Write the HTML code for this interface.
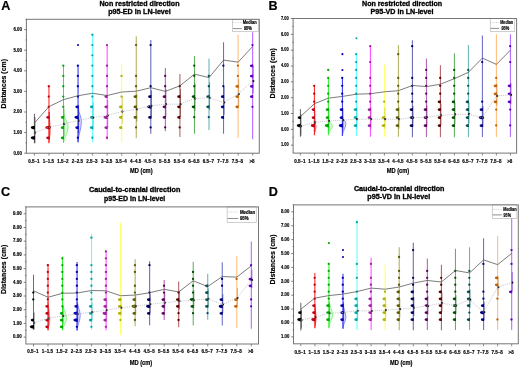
<!DOCTYPE html>
<html><head><meta charset="utf-8"><title>Distances by MD</title>
<style>html,body{margin:0;padding:0;background:#fff;overflow:hidden;}svg{display:block;filter:blur(0.45px);}</style></head>
<body><svg width="520" height="368" viewBox="0 0 520 368" font-family="'Liberation Sans', Arial, sans-serif" fill="#000">
<style>text{stroke:#000;stroke-width:0.18px;} .tt{stroke-width:0.34px;}</style>
<rect width="520" height="368" fill="#fff"/>
<text x="1.2" y="10.4" font-size="12.6" font-weight="bold">A</text>
<text x="99.5" y="6" class="tt" font-size="7.4" font-weight="bold" textLength="80" lengthAdjust="spacingAndGlyphs">Non restricted direction</text>
<text x="108.2" y="14.2" class="tt" font-size="7.4" font-weight="bold" textLength="62.6" lengthAdjust="spacingAndGlyphs">p95-ED in LN-level</text>
<line x1="34.4" y1="113.65" x2="34.4" y2="143.31" stroke="#6B6B6B" stroke-width="1.05"/>
<line x1="35" y1="117.15" x2="35" y2="143.31" stroke="#000000" stroke-width="0.9" opacity="0.55"/>
<path d="M34.9,125.7 A4.1,1.75 0 0 0 34.9,129.2 Z" fill="#000000"/>
<path d="M34.9,136 A4.1,1.75 0 0 0 34.9,139.5 Z" fill="#000000"/>
<circle cx="35.1" cy="132.6" r="1.1" fill="#181818"/>
<path d="M48.95,112 C49.25,119.42 50.45,124.05 50.45,130.54 C50.45,134.87 49.25,137.96 48.95,142.9 Z" fill="#FF2626" fill-opacity="0.18" stroke="#FF2626" stroke-width="0.6" stroke-opacity="0.85"/>
<line x1="48.95" y1="86.25" x2="48.95" y2="143.31" stroke="#FF2626" stroke-width="1.05"/>
<line x1="49.55" y1="112" x2="49.55" y2="139.81" stroke="#C00010" stroke-width="0.9" opacity="0.55"/>
<circle cx="48.75" cy="86.25" r="1.15" fill="#C00010"/>
<circle cx="48.75" cy="96.55" r="1.15" fill="#C00010"/>
<circle cx="48.75" cy="106.85" r="1.15" fill="#C00010"/>
<path d="M49.45,115.65 A3.2,1.5 0 0 0 49.45,118.65 Z" fill="#C00010"/>
<path d="M49.45,125.7 A4.1,1.75 0 0 0 49.45,129.2 Z" fill="#C00010"/>
<path d="M49.45,136.25 A3.2,1.5 0 0 0 49.45,139.25 Z" fill="#C00010"/>
<circle cx="49.65" cy="127.45" r="1.1" fill="#181818"/>
<path d="M63.5,112.82 C64.44,118.59 68.2,122.2 68.2,127.24 C68.2,132.72 64.44,136.64 63.5,142.9 Z" fill="#2EF12E" fill-opacity="0.18" stroke="#2EF12E" stroke-width="0.6" stroke-opacity="0.85"/>
<line x1="63.5" y1="65.65" x2="63.5" y2="142.49" stroke="#2EF12E" stroke-width="1.05"/>
<line x1="64.1" y1="108.5" x2="64.1" y2="136.31" stroke="#00A800" stroke-width="0.9" opacity="0.55"/>
<circle cx="63.3" cy="65.65" r="1.15" fill="#00A800"/>
<circle cx="63.3" cy="75.95" r="1.15" fill="#00A800"/>
<circle cx="63.3" cy="86.25" r="1.15" fill="#00A800"/>
<circle cx="63.3" cy="96.55" r="1.15" fill="#00A800"/>
<circle cx="63.3" cy="106.85" r="1.15" fill="#00A800"/>
<path d="M64,115.65 A3.2,1.5 0 0 0 64,118.65 Z" fill="#00A800"/>
<path d="M64,125.95 A3.2,1.5 0 0 0 64,128.95 Z" fill="#00A800"/>
<path d="M64,136.25 A3.2,1.5 0 0 0 64,139.25 Z" fill="#00A800"/>
<circle cx="64.2" cy="123.95" r="1.1" fill="#181818"/>
<path d="M78.05,107.67 C78.73,113.19 81.45,116.65 81.45,121.48 C81.45,128.54 78.73,133.59 78.05,141.66 Z" fill="#3333FF" fill-opacity="0.18" stroke="#3333FF" stroke-width="0.6" stroke-opacity="0.85"/>
<line x1="78.05" y1="65.65" x2="78.05" y2="142.49" stroke="#3333FF" stroke-width="1.05"/>
<line x1="78.65" y1="105.2" x2="78.65" y2="133.01" stroke="#0000B0" stroke-width="0.9" opacity="0.55"/>
<circle cx="77.85" cy="65.65" r="1.15" fill="#0000B0"/>
<circle cx="77.85" cy="75.95" r="1.15" fill="#0000B0"/>
<circle cx="77.85" cy="86.25" r="1.15" fill="#0000B0"/>
<circle cx="77.85" cy="96.55" r="1.15" fill="#0000B0"/>
<path d="M78.55,105.35 A3.2,1.5 0 0 0 78.55,108.35 Z" fill="#0000B0"/>
<path d="M78.55,115.4 A4.1,1.75 0 0 0 78.55,118.9 Z" fill="#0000B0"/>
<path d="M78.55,125.95 A3.2,1.5 0 0 0 78.55,128.95 Z" fill="#0000B0"/>
<circle cx="77.85" cy="137.75" r="1.15" fill="#0000B0"/>
<circle cx="78.05" cy="45.05" r="1.05" fill="#0000B0"/>
<circle cx="78.75" cy="120.65" r="1.1" fill="#181818"/>
<line x1="92.6" y1="34.75" x2="92.6" y2="142.28" stroke="#61FFFF" stroke-width="1.05"/>
<line x1="93.2" y1="102.11" x2="93.2" y2="129.92" stroke="#00A8A8" stroke-width="0.9" opacity="0.55"/>
<circle cx="92.4" cy="34.75" r="1.15" fill="#00A8A8"/>
<circle cx="92.4" cy="45.05" r="1.15" fill="#00A8A8"/>
<circle cx="92.4" cy="55.35" r="1.15" fill="#00A8A8"/>
<circle cx="92.4" cy="65.65" r="1.15" fill="#00A8A8"/>
<circle cx="92.4" cy="75.95" r="1.15" fill="#00A8A8"/>
<circle cx="92.4" cy="86.25" r="1.15" fill="#00A8A8"/>
<circle cx="92.4" cy="96.55" r="1.15" fill="#00A8A8"/>
<path d="M93.1,105.35 A3.2,1.5 0 0 0 93.1,108.35 Z" fill="#00A8A8"/>
<path d="M93.1,115.65 A3.2,1.5 0 0 0 93.1,118.65 Z" fill="#00A8A8"/>
<path d="M93.1,125.95 A3.2,1.5 0 0 0 93.1,128.95 Z" fill="#00A8A8"/>
<circle cx="92.4" cy="137.75" r="1.15" fill="#00A8A8"/>
<circle cx="93.3" cy="117.56" r="1.1" fill="#181818"/>
<line x1="107.15" y1="45.05" x2="107.15" y2="139.6" stroke="#FF4CFF" stroke-width="1.05"/>
<line x1="107.75" y1="100.05" x2="107.75" y2="127.86" stroke="#A020A0" stroke-width="0.9" opacity="0.55"/>
<circle cx="106.95" cy="45.05" r="1.15" fill="#A020A0"/>
<circle cx="106.95" cy="65.65" r="1.15" fill="#A020A0"/>
<circle cx="106.95" cy="75.95" r="1.15" fill="#A020A0"/>
<circle cx="106.95" cy="86.25" r="1.15" fill="#A020A0"/>
<path d="M107.65,95.05 A3.2,1.5 0 0 0 107.65,98.05 Z" fill="#A020A0"/>
<path d="M107.65,105.35 A3.2,1.5 0 0 0 107.65,108.35 Z" fill="#A020A0"/>
<path d="M107.65,115.4 A4.1,1.75 0 0 0 107.65,118.9 Z" fill="#A020A0"/>
<path d="M107.65,125.95 A3.2,1.5 0 0 0 107.65,128.95 Z" fill="#A020A0"/>
<circle cx="106.95" cy="137.75" r="1.15" fill="#A020A0"/>
<circle cx="107.85" cy="115.5" r="1.1" fill="#181818"/>
<line x1="121.7" y1="64.62" x2="121.7" y2="142.49" stroke="#FFFF66" stroke-width="1.05"/>
<line x1="122.3" y1="96.14" x2="122.3" y2="123.95" stroke="#B0B000" stroke-width="0.9" opacity="0.55"/>
<circle cx="121.5" cy="75.95" r="1.15" fill="#B0B000"/>
<circle cx="121.5" cy="96.55" r="1.15" fill="#B0B000"/>
<path d="M122.2,105.35 A3.2,1.5 0 0 0 122.2,108.35 Z" fill="#B0B000"/>
<path d="M122.2,115.65 A3.2,1.5 0 0 0 122.2,118.65 Z" fill="#B0B000"/>
<path d="M122.2,125.95 A3.2,1.5 0 0 0 122.2,128.95 Z" fill="#B0B000"/>
<circle cx="122.4" cy="111.59" r="1.1" fill="#181818"/>
<line x1="136.25" y1="36.19" x2="136.25" y2="138.16" stroke="#B0B061" stroke-width="1.05"/>
<line x1="136.85" y1="93.87" x2="136.85" y2="121.68" stroke="#5A5A00" stroke-width="0.9" opacity="0.55"/>
<circle cx="136.05" cy="45.05" r="1.15" fill="#5A5A00"/>
<circle cx="136.05" cy="75.95" r="1.15" fill="#5A5A00"/>
<circle cx="136.05" cy="86.25" r="1.15" fill="#5A5A00"/>
<path d="M136.75,95.05 A3.2,1.5 0 0 0 136.75,98.05 Z" fill="#5A5A00"/>
<path d="M136.75,105.35 A3.2,1.5 0 0 0 136.75,108.35 Z" fill="#5A5A00"/>
<path d="M136.75,115.65 A3.2,1.5 0 0 0 136.75,118.65 Z" fill="#5A5A00"/>
<circle cx="136.05" cy="127.45" r="1.15" fill="#5A5A00"/>
<circle cx="136.95" cy="109.32" r="1.1" fill="#181818"/>
<line x1="150.8" y1="40.11" x2="150.8" y2="133.63" stroke="#6666B3" stroke-width="1.05"/>
<line x1="151.4" y1="90.37" x2="151.4" y2="118.18" stroke="#00005A" stroke-width="0.9" opacity="0.55"/>
<circle cx="150.6" cy="45.05" r="1.15" fill="#00005A"/>
<circle cx="150.6" cy="86.25" r="1.15" fill="#00005A"/>
<path d="M151.3,95.05 A3.2,1.5 0 0 0 151.3,98.05 Z" fill="#00005A"/>
<path d="M151.3,105.1 A4.1,1.75 0 0 0 151.3,108.6 Z" fill="#00005A"/>
<path d="M151.3,115.65 A3.2,1.5 0 0 0 151.3,118.65 Z" fill="#00005A"/>
<circle cx="150.6" cy="127.45" r="1.15" fill="#00005A"/>
<circle cx="151.5" cy="105.82" r="1.1" fill="#181818"/>
<line x1="165.35" y1="68.12" x2="165.35" y2="131.36" stroke="#B061B0" stroke-width="1.05"/>
<line x1="165.95" y1="88.72" x2="165.95" y2="116.53" stroke="#5A005A" stroke-width="0.9" opacity="0.55"/>
<circle cx="165.15" cy="75.95" r="1.15" fill="#5A005A"/>
<circle cx="165.15" cy="86.25" r="1.15" fill="#5A005A"/>
<path d="M165.85,95.05 A3.2,1.5 0 0 0 165.85,98.05 Z" fill="#5A005A"/>
<path d="M165.85,105.35 A3.2,1.5 0 0 0 165.85,108.35 Z" fill="#5A005A"/>
<path d="M165.85,115.65 A3.2,1.5 0 0 0 165.85,118.65 Z" fill="#5A005A"/>
<circle cx="165.15" cy="127.45" r="1.15" fill="#5A005A"/>
<circle cx="166.05" cy="104.17" r="1.1" fill="#181818"/>
<line x1="179.9" y1="74.1" x2="179.9" y2="136.93" stroke="#B06161" stroke-width="1.05"/>
<line x1="180.5" y1="88.72" x2="180.5" y2="116.53" stroke="#5A0000" stroke-width="0.9" opacity="0.55"/>
<circle cx="179.7" cy="86.25" r="1.15" fill="#5A0000"/>
<path d="M180.4,95.05 A3.2,1.5 0 0 0 180.4,98.05 Z" fill="#5A0000"/>
<path d="M180.4,105.35 A3.2,1.5 0 0 0 180.4,108.35 Z" fill="#5A0000"/>
<path d="M180.4,115.65 A3.2,1.5 0 0 0 180.4,118.65 Z" fill="#5A0000"/>
<circle cx="179.7" cy="127.45" r="1.15" fill="#5A0000"/>
<circle cx="180.6" cy="104.17" r="1.1" fill="#181818"/>
<line x1="194.45" y1="55.97" x2="194.45" y2="133.84" stroke="#61B061" stroke-width="1.05"/>
<line x1="195.05" y1="83.16" x2="195.05" y2="110.97" stroke="#005000" stroke-width="0.9" opacity="0.55"/>
<circle cx="194.25" cy="65.65" r="1.15" fill="#005000"/>
<circle cx="194.25" cy="75.95" r="1.15" fill="#005000"/>
<circle cx="194.25" cy="86.25" r="1.15" fill="#005000"/>
<path d="M194.95,95.05 A3.2,1.5 0 0 0 194.95,98.05 Z" fill="#005000"/>
<path d="M194.95,105.35 A3.2,1.5 0 0 0 194.95,108.35 Z" fill="#005000"/>
<circle cx="194.25" cy="117.15" r="1.15" fill="#005000"/>
<circle cx="195.15" cy="98.61" r="1.1" fill="#181818"/>
<line x1="209" y1="58.44" x2="209" y2="129.92" stroke="#66B3B3" stroke-width="1.05"/>
<line x1="209.6" y1="82.34" x2="209.6" y2="110.15" stroke="#005050" stroke-width="0.9" opacity="0.55"/>
<circle cx="208.8" cy="75.95" r="1.15" fill="#005050"/>
<circle cx="208.8" cy="86.25" r="1.15" fill="#005050"/>
<path d="M209.5,95.05 A3.2,1.5 0 0 0 209.5,98.05 Z" fill="#005050"/>
<path d="M209.5,105.35 A3.2,1.5 0 0 0 209.5,108.35 Z" fill="#005050"/>
<circle cx="208.8" cy="117.15" r="1.15" fill="#005050"/>
<circle cx="209.7" cy="97.79" r="1.1" fill="#181818"/>
<line x1="223.55" y1="42.37" x2="223.55" y2="133.84" stroke="#6B6BC8" stroke-width="1.05"/>
<line x1="224.15" y1="87.07" x2="224.15" y2="114.88" stroke="#000080" stroke-width="0.9" opacity="0.55"/>
<circle cx="223.35" cy="65.65" r="1.15" fill="#000080"/>
<circle cx="223.35" cy="86.25" r="1.15" fill="#000080"/>
<path d="M224.05,95.05 A3.2,1.5 0 0 0 224.05,98.05 Z" fill="#000080"/>
<path d="M224.05,105.35 A3.2,1.5 0 0 0 224.05,108.35 Z" fill="#000080"/>
<path d="M224.05,115.65 A3.2,1.5 0 0 0 224.05,118.65 Z" fill="#000080"/>
<circle cx="224.25" cy="102.52" r="1.1" fill="#181818"/>
<line x1="238.1" y1="34.75" x2="238.1" y2="137.75" stroke="#FFBD7A" stroke-width="1.05"/>
<line x1="238.7" y1="78.63" x2="238.7" y2="106.44" stroke="#C06000" stroke-width="0.9" opacity="0.55"/>
<circle cx="237.9" cy="65.65" r="1.15" fill="#C06000"/>
<circle cx="237.9" cy="75.95" r="1.15" fill="#C06000"/>
<path d="M238.6,84.75 A3.2,1.5 0 0 0 238.6,87.75 Z" fill="#C06000"/>
<path d="M238.6,95.05 A3.2,1.5 0 0 0 238.6,98.05 Z" fill="#C06000"/>
<path d="M238.6,105.35 A3.2,1.5 0 0 0 238.6,108.35 Z" fill="#C06000"/>
<circle cx="238.8" cy="94.08" r="1.1" fill="#181818"/>
<line x1="252.65" y1="32.28" x2="252.65" y2="139.19" stroke="#B366FF" stroke-width="1.05"/>
<line x1="253.25" y1="65.65" x2="253.25" y2="93.46" stroke="#6000C0" stroke-width="0.9" opacity="0.55"/>
<circle cx="252.45" cy="45.05" r="1.15" fill="#6000C0"/>
<path d="M253.15,64.15 A3.2,1.5 0 0 0 253.15,67.15 Z" fill="#6000C0"/>
<path d="M253.15,74.45 A3.2,1.5 0 0 0 253.15,77.45 Z" fill="#6000C0"/>
<path d="M253.15,84.75 A3.2,1.5 0 0 0 253.15,87.75 Z" fill="#6000C0"/>
<path d="M253.15,95.05 A3.2,1.5 0 0 0 253.15,98.05 Z" fill="#6000C0"/>
<circle cx="252.45" cy="106.85" r="1.15" fill="#6000C0"/>
<circle cx="253.35" cy="81.1" r="1.1" fill="#181818"/>
<polyline points="34.4,132.6 48.95,127.45 63.5,123.95 78.05,120.65 92.6,117.56 107.15,115.5 121.7,111.59 136.25,109.32 150.8,105.82 165.35,104.17 179.9,104.17 194.45,98.61 209,97.79 223.55,102.52 238.1,94.08 252.65,81.1" fill="none" stroke="#b8b8c0" stroke-width="0.75" stroke-dasharray="1.2,1"/>
<polyline points="34.4,123.12 48.95,106.64 63.5,99.64 78.05,95.73 92.6,93.25 107.15,95.52 121.7,92.02 136.25,91.19 150.8,87.69 165.35,91.4 179.9,85.84 194.45,74.1 209,77.6 223.55,60.09 238.1,62.15 252.65,46.49" fill="none" stroke="#505050" stroke-width="0.75"/>
<rect x="232.4" y="19.3" width="25.8" height="12.2" fill="#fff" stroke="#a0a0a0" stroke-width="0.5"/>
<line x1="233" y1="22.6" x2="241.8" y2="22.6" stroke="#b8b8b8" stroke-width="0.6" stroke-dasharray="1,0.8"/>
<line x1="233" y1="28.6" x2="241.8" y2="28.6" stroke="#606060" stroke-width="0.7"/>
<text x="242.7" y="23.9" font-size="4.8" font-weight="bold" textLength="14" lengthAdjust="spacingAndGlyphs">Median</text>
<text x="243.9" y="29.7" font-size="4.8" font-weight="bold" textLength="8" lengthAdjust="spacingAndGlyphs">95%</text>
<rect x="26.4" y="19.3" width="232.9" height="133.9" fill="none" stroke="#767676" stroke-width="1.0"/>
<line x1="24.2" y1="153.2" x2="26.4" y2="153.2" stroke="#606060" stroke-width="0.8"/>
<text x="21.9" y="154.5" font-size="5.4" font-weight="bold" text-anchor="end" textLength="8.4" lengthAdjust="spacingAndGlyphs">0.00</text>
<line x1="24.2" y1="132.6" x2="26.4" y2="132.6" stroke="#606060" stroke-width="0.8"/>
<text x="21.9" y="133.9" font-size="5.4" font-weight="bold" text-anchor="end" textLength="8.4" lengthAdjust="spacingAndGlyphs">1.00</text>
<line x1="24.2" y1="112" x2="26.4" y2="112" stroke="#606060" stroke-width="0.8"/>
<text x="21.9" y="113.3" font-size="5.4" font-weight="bold" text-anchor="end" textLength="8.4" lengthAdjust="spacingAndGlyphs">2.00</text>
<line x1="24.2" y1="91.4" x2="26.4" y2="91.4" stroke="#606060" stroke-width="0.8"/>
<text x="21.9" y="92.7" font-size="5.4" font-weight="bold" text-anchor="end" textLength="8.4" lengthAdjust="spacingAndGlyphs">3.00</text>
<line x1="24.2" y1="70.8" x2="26.4" y2="70.8" stroke="#606060" stroke-width="0.8"/>
<text x="21.9" y="72.1" font-size="5.4" font-weight="bold" text-anchor="end" textLength="8.4" lengthAdjust="spacingAndGlyphs">4.00</text>
<line x1="24.2" y1="50.2" x2="26.4" y2="50.2" stroke="#606060" stroke-width="0.8"/>
<text x="21.9" y="51.5" font-size="5.4" font-weight="bold" text-anchor="end" textLength="8.4" lengthAdjust="spacingAndGlyphs">5.00</text>
<line x1="24.2" y1="29.6" x2="26.4" y2="29.6" stroke="#606060" stroke-width="0.8"/>
<text x="21.9" y="30.9" font-size="5.4" font-weight="bold" text-anchor="end" textLength="8.4" lengthAdjust="spacingAndGlyphs">6.00</text>
<line x1="25.4" y1="142.9" x2="27" y2="142.9" stroke="#606060" stroke-width="0.6"/>
<line x1="25.4" y1="122.3" x2="27" y2="122.3" stroke="#606060" stroke-width="0.6"/>
<line x1="25.4" y1="101.7" x2="27" y2="101.7" stroke="#606060" stroke-width="0.6"/>
<line x1="25.4" y1="81.1" x2="27" y2="81.1" stroke="#606060" stroke-width="0.6"/>
<line x1="25.4" y1="60.5" x2="27" y2="60.5" stroke="#606060" stroke-width="0.6"/>
<line x1="25.4" y1="39.9" x2="27" y2="39.9" stroke="#606060" stroke-width="0.6"/>
<line x1="25.4" y1="19.3" x2="27" y2="19.3" stroke="#606060" stroke-width="0.6"/>
<line x1="34.4" y1="153.2" x2="34.4" y2="155.7" stroke="#606060" stroke-width="0.7"/>
<text x="33.8" y="162.6" font-size="5.0" font-weight="bold" text-anchor="middle" textLength="11.29" lengthAdjust="spacingAndGlyphs">0.5–1</text>
<line x1="48.95" y1="153.2" x2="48.95" y2="155.7" stroke="#606060" stroke-width="0.7"/>
<text x="48.35" y="162.6" font-size="5.0" font-weight="bold" text-anchor="middle" textLength="11.29" lengthAdjust="spacingAndGlyphs">1–1.5</text>
<line x1="63.5" y1="153.2" x2="63.5" y2="155.7" stroke="#606060" stroke-width="0.7"/>
<text x="62.9" y="162.6" font-size="5.0" font-weight="bold" text-anchor="middle" textLength="11.29" lengthAdjust="spacingAndGlyphs">1.5–2</text>
<line x1="78.05" y1="153.2" x2="78.05" y2="155.7" stroke="#606060" stroke-width="0.7"/>
<text x="77.45" y="162.6" font-size="5.0" font-weight="bold" text-anchor="middle" textLength="11.29" lengthAdjust="spacingAndGlyphs">2–2.5</text>
<line x1="92.6" y1="153.2" x2="92.6" y2="155.7" stroke="#606060" stroke-width="0.7"/>
<text x="92" y="162.6" font-size="5.0" font-weight="bold" text-anchor="middle" textLength="11.29" lengthAdjust="spacingAndGlyphs">2.5–3</text>
<line x1="107.15" y1="153.2" x2="107.15" y2="155.7" stroke="#606060" stroke-width="0.7"/>
<text x="106.55" y="162.6" font-size="5.0" font-weight="bold" text-anchor="middle" textLength="11.29" lengthAdjust="spacingAndGlyphs">3–3.5</text>
<line x1="121.7" y1="153.2" x2="121.7" y2="155.7" stroke="#606060" stroke-width="0.7"/>
<text x="121.1" y="162.6" font-size="5.0" font-weight="bold" text-anchor="middle" textLength="11.29" lengthAdjust="spacingAndGlyphs">3.5–4</text>
<line x1="136.25" y1="153.2" x2="136.25" y2="155.7" stroke="#606060" stroke-width="0.7"/>
<text x="135.65" y="162.6" font-size="5.0" font-weight="bold" text-anchor="middle" textLength="11.29" lengthAdjust="spacingAndGlyphs">4–4.5</text>
<line x1="150.8" y1="153.2" x2="150.8" y2="155.7" stroke="#606060" stroke-width="0.7"/>
<text x="150.2" y="162.6" font-size="5.0" font-weight="bold" text-anchor="middle" textLength="11.29" lengthAdjust="spacingAndGlyphs">4.5–5</text>
<line x1="165.35" y1="153.2" x2="165.35" y2="155.7" stroke="#606060" stroke-width="0.7"/>
<text x="164.75" y="162.6" font-size="5.0" font-weight="bold" text-anchor="middle" textLength="11.29" lengthAdjust="spacingAndGlyphs">5–5.5</text>
<line x1="179.9" y1="153.2" x2="179.9" y2="155.7" stroke="#606060" stroke-width="0.7"/>
<text x="179.3" y="162.6" font-size="5.0" font-weight="bold" text-anchor="middle" textLength="11.29" lengthAdjust="spacingAndGlyphs">5.5–6</text>
<line x1="194.45" y1="153.2" x2="194.45" y2="155.7" stroke="#606060" stroke-width="0.7"/>
<text x="193.85" y="162.6" font-size="5.0" font-weight="bold" text-anchor="middle" textLength="11.29" lengthAdjust="spacingAndGlyphs">6–6.5</text>
<line x1="209" y1="153.2" x2="209" y2="155.7" stroke="#606060" stroke-width="0.7"/>
<text x="208.4" y="162.6" font-size="5.0" font-weight="bold" text-anchor="middle" textLength="11.29" lengthAdjust="spacingAndGlyphs">6.5–7</text>
<line x1="223.55" y1="153.2" x2="223.55" y2="155.7" stroke="#606060" stroke-width="0.7"/>
<text x="222.95" y="162.6" font-size="5.0" font-weight="bold" text-anchor="middle" textLength="11.29" lengthAdjust="spacingAndGlyphs">7–7.5</text>
<line x1="238.1" y1="153.2" x2="238.1" y2="155.7" stroke="#606060" stroke-width="0.7"/>
<text x="237.5" y="162.6" font-size="5.0" font-weight="bold" text-anchor="middle" textLength="11.29" lengthAdjust="spacingAndGlyphs">7.5–8</text>
<line x1="252.65" y1="153.2" x2="252.65" y2="155.7" stroke="#606060" stroke-width="0.7"/>
<text x="252.05" y="162.6" font-size="5.0" font-weight="bold" text-anchor="middle" textLength="5.14" lengthAdjust="spacingAndGlyphs">&gt;8</text>
<text x="141.3" y="172.9" font-size="6.4" font-weight="bold" text-anchor="middle" textLength="22.6" lengthAdjust="spacingAndGlyphs">MD (cm)</text>
<text transform="translate(6.3,83.7) rotate(-90)" x="0" y="0" font-size="7.1" font-weight="bold" text-anchor="middle" textLength="49.4" lengthAdjust="spacingAndGlyphs">Distances (cm)</text>
<text x="268.5" y="10.3" font-size="12.6" font-weight="bold">B</text>
<text x="362.1" y="5.9" class="tt" font-size="7.4" font-weight="bold" textLength="80" lengthAdjust="spacingAndGlyphs">Non restricted direction</text>
<text x="370.5" y="14.1" class="tt" font-size="7.4" font-weight="bold" textLength="63" lengthAdjust="spacingAndGlyphs">P95-VD in LN-level</text>
<line x1="300.4" y1="108.92" x2="300.4" y2="136.63" stroke="#6B6B6B" stroke-width="1.05"/>
<line x1="301" y1="114.3" x2="301" y2="135.68" stroke="#000000" stroke-width="0.9" opacity="0.55"/>
<path d="M300.9,115.97 A3.2,1.5 0 0 0 300.9,118.97 Z" fill="#000000"/>
<path d="M300.9,123.64 A4.1,1.75 0 0 0 300.9,127.14 Z" fill="#000000"/>
<circle cx="301.1" cy="126.18" r="1.1" fill="#181818"/>
<path d="M314.4,121.59 C314.74,123.42 316.1,124.57 316.1,126.18 C316.1,129.17 314.74,131.31 314.4,134.73 Z" fill="#FF2626" fill-opacity="0.18" stroke="#FF2626" stroke-width="0.6" stroke-opacity="0.85"/>
<line x1="314.4" y1="85.48" x2="314.4" y2="135.21" stroke="#FF2626" stroke-width="1.05"/>
<line x1="315" y1="110.5" x2="315" y2="131.88" stroke="#C00010" stroke-width="0.9" opacity="0.55"/>
<circle cx="314.2" cy="85.8" r="1.15" fill="#C00010"/>
<circle cx="314.2" cy="93.72" r="1.15" fill="#C00010"/>
<circle cx="314.2" cy="101.64" r="1.15" fill="#C00010"/>
<path d="M314.9,108.05 A3.2,1.5 0 0 0 314.9,111.05 Z" fill="#C00010"/>
<path d="M314.9,115.97 A3.2,1.5 0 0 0 314.9,118.97 Z" fill="#C00010"/>
<path d="M314.9,123.64 A4.1,1.75 0 0 0 314.9,127.14 Z" fill="#C00010"/>
<circle cx="315.1" cy="122.38" r="1.1" fill="#181818"/>
<path d="M328.4,119.37 C329.18,122.09 332.3,123.8 332.3,126.18 C332.3,128.95 329.18,130.93 328.4,134.1 Z" fill="#2EF12E" fill-opacity="0.18" stroke="#2EF12E" stroke-width="0.6" stroke-opacity="0.85"/>
<line x1="328.4" y1="77.88" x2="328.4" y2="135.21" stroke="#2EF12E" stroke-width="1.05"/>
<line x1="329" y1="109.08" x2="329" y2="130.46" stroke="#00A800" stroke-width="0.9" opacity="0.55"/>
<circle cx="328.2" cy="69.96" r="1.15" fill="#00A800"/>
<circle cx="328.2" cy="77.88" r="1.15" fill="#00A800"/>
<circle cx="328.2" cy="85.8" r="1.15" fill="#00A800"/>
<circle cx="328.2" cy="93.72" r="1.15" fill="#00A800"/>
<circle cx="328.2" cy="101.64" r="1.15" fill="#00A800"/>
<path d="M328.9,108.05 A3.2,1.5 0 0 0 328.9,111.05 Z" fill="#00A800"/>
<path d="M328.9,115.97 A3.2,1.5 0 0 0 328.9,118.97 Z" fill="#00A800"/>
<path d="M328.9,123.64 A4.1,1.75 0 0 0 328.9,127.14 Z" fill="#00A800"/>
<circle cx="329.1" cy="120.95" r="1.1" fill="#181818"/>
<path d="M342.4,117 C343.1,119.53 345.9,121.11 345.9,123.33 C345.9,127.49 343.1,130.46 342.4,135.21 Z" fill="#3333FF" fill-opacity="0.18" stroke="#3333FF" stroke-width="0.6" stroke-opacity="0.85"/>
<line x1="342.4" y1="77.09" x2="342.4" y2="136" stroke="#3333FF" stroke-width="1.05"/>
<line x1="343" y1="108.29" x2="343" y2="129.66" stroke="#0000B0" stroke-width="0.9" opacity="0.55"/>
<circle cx="342.2" cy="77.88" r="1.15" fill="#0000B0"/>
<circle cx="342.2" cy="85.8" r="1.15" fill="#0000B0"/>
<circle cx="342.2" cy="93.72" r="1.15" fill="#0000B0"/>
<circle cx="342.2" cy="101.64" r="1.15" fill="#0000B0"/>
<path d="M342.9,108.05 A3.2,1.5 0 0 0 342.9,111.05 Z" fill="#0000B0"/>
<path d="M342.9,115.97 A3.2,1.5 0 0 0 342.9,118.97 Z" fill="#0000B0"/>
<path d="M342.9,123.64 A4.1,1.75 0 0 0 342.9,127.14 Z" fill="#0000B0"/>
<circle cx="342.4" cy="54.13" r="1.05" fill="#0000B0"/>
<circle cx="342.4" cy="69.96" r="1.05" fill="#0000B0"/>
<circle cx="343.1" cy="120.16" r="1.1" fill="#181818"/>
<line x1="356.4" y1="54.13" x2="356.4" y2="136" stroke="#61FFFF" stroke-width="1.05"/>
<line x1="357" y1="107.34" x2="357" y2="128.71" stroke="#00A8A8" stroke-width="0.9" opacity="0.55"/>
<circle cx="356.2" cy="54.13" r="1.15" fill="#00A8A8"/>
<circle cx="356.2" cy="62.05" r="1.15" fill="#00A8A8"/>
<circle cx="356.2" cy="69.96" r="1.15" fill="#00A8A8"/>
<circle cx="356.2" cy="77.88" r="1.15" fill="#00A8A8"/>
<circle cx="356.2" cy="85.8" r="1.15" fill="#00A8A8"/>
<circle cx="356.2" cy="93.72" r="1.15" fill="#00A8A8"/>
<circle cx="356.2" cy="101.64" r="1.15" fill="#00A8A8"/>
<path d="M356.9,108.05 A3.2,1.5 0 0 0 356.9,111.05 Z" fill="#00A8A8"/>
<path d="M356.9,115.97 A3.2,1.5 0 0 0 356.9,118.97 Z" fill="#00A8A8"/>
<path d="M356.9,123.89 A3.2,1.5 0 0 0 356.9,126.89 Z" fill="#00A8A8"/>
<circle cx="356.4" cy="38.29" r="1.05" fill="#00A8A8"/>
<circle cx="357.1" cy="119.21" r="1.1" fill="#181818"/>
<line x1="370.4" y1="45.74" x2="370.4" y2="136.63" stroke="#FF4CFF" stroke-width="1.05"/>
<line x1="371" y1="107.34" x2="371" y2="128.71" stroke="#A020A0" stroke-width="0.9" opacity="0.55"/>
<circle cx="370.2" cy="46.21" r="1.15" fill="#A020A0"/>
<circle cx="370.2" cy="62.05" r="1.15" fill="#A020A0"/>
<circle cx="370.2" cy="77.88" r="1.15" fill="#A020A0"/>
<circle cx="370.2" cy="85.8" r="1.15" fill="#A020A0"/>
<circle cx="370.2" cy="93.72" r="1.15" fill="#A020A0"/>
<circle cx="370.2" cy="101.64" r="1.15" fill="#A020A0"/>
<path d="M370.9,108.05 A3.2,1.5 0 0 0 370.9,111.05 Z" fill="#A020A0"/>
<path d="M370.9,115.97 A3.2,1.5 0 0 0 370.9,118.97 Z" fill="#A020A0"/>
<path d="M370.9,123.89 A3.2,1.5 0 0 0 370.9,126.89 Z" fill="#A020A0"/>
<circle cx="371.1" cy="119.21" r="1.1" fill="#181818"/>
<line x1="384.4" y1="64.42" x2="384.4" y2="136.63" stroke="#FFFF66" stroke-width="1.05"/>
<line x1="385" y1="107.34" x2="385" y2="128.71" stroke="#B0B000" stroke-width="0.9" opacity="0.55"/>
<circle cx="384.2" cy="101.64" r="1.15" fill="#B0B000"/>
<path d="M384.9,115.97 A3.2,1.5 0 0 0 384.9,118.97 Z" fill="#B0B000"/>
<path d="M384.9,123.89 A3.2,1.5 0 0 0 384.9,126.89 Z" fill="#B0B000"/>
<circle cx="385.1" cy="119.21" r="1.1" fill="#181818"/>
<line x1="398.4" y1="44.94" x2="398.4" y2="136.63" stroke="#B0B061" stroke-width="1.05"/>
<line x1="399" y1="107.34" x2="399" y2="128.71" stroke="#5A5A00" stroke-width="0.9" opacity="0.55"/>
<circle cx="398.2" cy="54.13" r="1.15" fill="#5A5A00"/>
<circle cx="398.2" cy="77.88" r="1.15" fill="#5A5A00"/>
<circle cx="398.2" cy="85.8" r="1.15" fill="#5A5A00"/>
<circle cx="398.2" cy="93.72" r="1.15" fill="#5A5A00"/>
<circle cx="398.2" cy="101.64" r="1.15" fill="#5A5A00"/>
<path d="M398.9,108.05 A3.2,1.5 0 0 0 398.9,111.05 Z" fill="#5A5A00"/>
<path d="M398.9,115.97 A3.2,1.5 0 0 0 398.9,118.97 Z" fill="#5A5A00"/>
<path d="M398.9,123.89 A3.2,1.5 0 0 0 398.9,126.89 Z" fill="#5A5A00"/>
<circle cx="399.1" cy="119.21" r="1.1" fill="#181818"/>
<line x1="412.4" y1="40.19" x2="412.4" y2="137.26" stroke="#6666B3" stroke-width="1.05"/>
<line x1="413" y1="105.75" x2="413" y2="127.13" stroke="#00005A" stroke-width="0.9" opacity="0.55"/>
<circle cx="412.2" cy="46.21" r="1.15" fill="#00005A"/>
<circle cx="412.2" cy="77.88" r="1.15" fill="#00005A"/>
<circle cx="412.2" cy="85.8" r="1.15" fill="#00005A"/>
<circle cx="412.2" cy="93.72" r="1.15" fill="#00005A"/>
<circle cx="412.2" cy="101.64" r="1.15" fill="#00005A"/>
<path d="M412.9,108.05 A3.2,1.5 0 0 0 412.9,111.05 Z" fill="#00005A"/>
<path d="M412.9,115.97 A3.2,1.5 0 0 0 412.9,118.97 Z" fill="#00005A"/>
<path d="M412.9,123.89 A3.2,1.5 0 0 0 412.9,126.89 Z" fill="#00005A"/>
<circle cx="413.1" cy="117.63" r="1.1" fill="#181818"/>
<line x1="426.4" y1="58.4" x2="426.4" y2="136.95" stroke="#B061B0" stroke-width="1.05"/>
<line x1="427" y1="105.28" x2="427" y2="126.66" stroke="#5A005A" stroke-width="0.9" opacity="0.55"/>
<circle cx="426.2" cy="69.96" r="1.15" fill="#5A005A"/>
<circle cx="426.2" cy="77.88" r="1.15" fill="#5A005A"/>
<circle cx="426.2" cy="85.8" r="1.15" fill="#5A005A"/>
<circle cx="426.2" cy="93.72" r="1.15" fill="#5A005A"/>
<circle cx="426.2" cy="101.64" r="1.15" fill="#5A005A"/>
<path d="M426.9,108.05 A3.2,1.5 0 0 0 426.9,111.05 Z" fill="#5A005A"/>
<path d="M426.9,115.97 A3.2,1.5 0 0 0 426.9,118.97 Z" fill="#5A005A"/>
<path d="M426.9,123.89 A3.2,1.5 0 0 0 426.9,126.89 Z" fill="#5A005A"/>
<circle cx="427.1" cy="117.15" r="1.1" fill="#181818"/>
<line x1="440.4" y1="65.21" x2="440.4" y2="137.26" stroke="#B06161" stroke-width="1.05"/>
<line x1="441" y1="103.54" x2="441" y2="124.91" stroke="#5A0000" stroke-width="0.9" opacity="0.55"/>
<circle cx="440.2" cy="77.88" r="1.15" fill="#5A0000"/>
<circle cx="440.2" cy="85.8" r="1.15" fill="#5A0000"/>
<circle cx="440.2" cy="93.72" r="1.15" fill="#5A0000"/>
<path d="M440.9,100.14 A3.2,1.5 0 0 0 440.9,103.14 Z" fill="#5A0000"/>
<path d="M440.9,108.05 A3.2,1.5 0 0 0 440.9,111.05 Z" fill="#5A0000"/>
<path d="M440.9,115.97 A3.2,1.5 0 0 0 440.9,118.97 Z" fill="#5A0000"/>
<path d="M440.9,123.89 A3.2,1.5 0 0 0 440.9,126.89 Z" fill="#5A0000"/>
<circle cx="441.1" cy="115.41" r="1.1" fill="#181818"/>
<line x1="454.4" y1="53.18" x2="454.4" y2="137.26" stroke="#61B061" stroke-width="1.05"/>
<line x1="455" y1="102.59" x2="455" y2="123.96" stroke="#005000" stroke-width="0.9" opacity="0.55"/>
<circle cx="454.2" cy="69.96" r="1.15" fill="#005000"/>
<circle cx="454.2" cy="77.88" r="1.15" fill="#005000"/>
<circle cx="454.2" cy="85.8" r="1.15" fill="#005000"/>
<circle cx="454.2" cy="93.72" r="1.15" fill="#005000"/>
<path d="M454.9,100.14 A3.2,1.5 0 0 0 454.9,103.14 Z" fill="#005000"/>
<path d="M454.9,108.05 A3.2,1.5 0 0 0 454.9,111.05 Z" fill="#005000"/>
<path d="M454.9,115.97 A3.2,1.5 0 0 0 454.9,118.97 Z" fill="#005000"/>
<path d="M454.9,123.89 A3.2,1.5 0 0 0 454.9,126.89 Z" fill="#005000"/>
<circle cx="455.1" cy="114.46" r="1.1" fill="#181818"/>
<line x1="468.4" y1="44.94" x2="468.4" y2="137.26" stroke="#66B3B3" stroke-width="1.05"/>
<line x1="469" y1="102.27" x2="469" y2="123.65" stroke="#005050" stroke-width="0.9" opacity="0.55"/>
<circle cx="468.2" cy="69.96" r="1.15" fill="#005050"/>
<circle cx="468.2" cy="77.88" r="1.15" fill="#005050"/>
<circle cx="468.2" cy="85.8" r="1.15" fill="#005050"/>
<circle cx="468.2" cy="93.72" r="1.15" fill="#005050"/>
<path d="M468.9,100.14 A3.2,1.5 0 0 0 468.9,103.14 Z" fill="#005050"/>
<path d="M468.9,108.05 A3.2,1.5 0 0 0 468.9,111.05 Z" fill="#005050"/>
<path d="M468.9,115.97 A3.2,1.5 0 0 0 468.9,118.97 Z" fill="#005050"/>
<path d="M468.9,123.89 A3.2,1.5 0 0 0 468.9,126.89 Z" fill="#005050"/>
<circle cx="469.1" cy="114.15" r="1.1" fill="#181818"/>
<line x1="482.4" y1="35.6" x2="482.4" y2="136.95" stroke="#6B6BC8" stroke-width="1.05"/>
<line x1="483" y1="105.75" x2="483" y2="127.13" stroke="#000080" stroke-width="0.9" opacity="0.55"/>
<circle cx="482.2" cy="62.05" r="1.15" fill="#000080"/>
<circle cx="482.2" cy="101.64" r="1.15" fill="#000080"/>
<path d="M482.9,108.05 A3.2,1.5 0 0 0 482.9,111.05 Z" fill="#000080"/>
<path d="M482.9,115.72 A4.1,1.75 0 0 0 482.9,119.22 Z" fill="#000080"/>
<path d="M482.9,123.89 A3.2,1.5 0 0 0 482.9,126.89 Z" fill="#000080"/>
<circle cx="483.1" cy="117.63" r="1.1" fill="#181818"/>
<line x1="496.4" y1="34.34" x2="496.4" y2="136.95" stroke="#FFBD7A" stroke-width="1.05"/>
<line x1="497" y1="84.06" x2="497" y2="105.44" stroke="#C06000" stroke-width="0.9" opacity="0.55"/>
<circle cx="496.2" cy="77.88" r="1.15" fill="#C06000"/>
<path d="M496.9,84.3 A3.2,1.5 0 0 0 496.9,87.3 Z" fill="#C06000"/>
<path d="M496.9,92.22 A3.2,1.5 0 0 0 496.9,95.22 Z" fill="#C06000"/>
<path d="M496.9,100.14 A3.2,1.5 0 0 0 496.9,103.14 Z" fill="#C06000"/>
<circle cx="496.2" cy="109.55" r="1.15" fill="#C06000"/>
<circle cx="496.2" cy="125.39" r="1.15" fill="#C06000"/>
<circle cx="497.1" cy="95.93" r="1.1" fill="#181818"/>
<line x1="510.4" y1="34.34" x2="510.4" y2="136.95" stroke="#B366FF" stroke-width="1.05"/>
<line x1="511" y1="82.95" x2="511" y2="104.33" stroke="#6000C0" stroke-width="0.9" opacity="0.55"/>
<circle cx="510.2" cy="46.21" r="1.15" fill="#6000C0"/>
<circle cx="510.2" cy="62.05" r="1.15" fill="#6000C0"/>
<path d="M510.9,84.3 A3.2,1.5 0 0 0 510.9,87.3 Z" fill="#6000C0"/>
<path d="M510.9,92.22 A3.2,1.5 0 0 0 510.9,95.22 Z" fill="#6000C0"/>
<path d="M510.9,100.14 A3.2,1.5 0 0 0 510.9,103.14 Z" fill="#6000C0"/>
<circle cx="510.2" cy="109.55" r="1.15" fill="#6000C0"/>
<circle cx="510.2" cy="125.39" r="1.15" fill="#6000C0"/>
<circle cx="511.1" cy="94.83" r="1.1" fill="#181818"/>
<polyline points="300.4,126.18 314.4,122.38 328.4,120.95 342.4,120.16 356.4,119.21 370.4,119.21 384.4,119.21 398.4,119.21 412.4,117.63 426.4,117.15 440.4,115.41 454.4,114.46 468.4,114.15 482.4,117.63 496.4,95.93 510.4,94.83" fill="none" stroke="#b8b8c0" stroke-width="0.75" stroke-dasharray="1.2,1"/>
<polyline points="300.4,116.68 314.4,103.69 328.4,98.15 342.4,96.41 356.4,94.19 370.4,93.72 384.4,91.82 398.4,90.71 412.4,85.48 426.4,86.59 440.4,84.22 454.4,78.67 468.4,72.34 482.4,58.09 496.4,64.42 510.4,50.17" fill="none" stroke="#505050" stroke-width="0.75"/>
<rect x="490.2" y="18.3" width="24.6" height="13" fill="#fff" stroke="#a0a0a0" stroke-width="0.5"/>
<line x1="490.6" y1="22.5" x2="499.1" y2="22.5" stroke="#b8b8b8" stroke-width="0.6" stroke-dasharray="1,0.8"/>
<line x1="490.6" y1="28.4" x2="499.1" y2="28.4" stroke="#606060" stroke-width="0.7"/>
<text x="500.25" y="23.8" font-size="4.8" font-weight="bold" textLength="12.8" lengthAdjust="spacingAndGlyphs">Median</text>
<text x="501.4" y="29.7" font-size="4.8" font-weight="bold" textLength="7.8" lengthAdjust="spacingAndGlyphs">95%</text>
<rect x="293.1" y="18.5" width="223.5" height="134.6" fill="none" stroke="#767676" stroke-width="1.0"/>
<line x1="290.9" y1="145.18" x2="293.1" y2="145.18" stroke="#606060" stroke-width="0.8"/>
<text x="288.6" y="146.48" font-size="5.4" font-weight="bold" text-anchor="end" textLength="7.7" lengthAdjust="spacingAndGlyphs">1.00</text>
<line x1="290.9" y1="129.35" x2="293.1" y2="129.35" stroke="#606060" stroke-width="0.8"/>
<text x="288.6" y="130.65" font-size="5.4" font-weight="bold" text-anchor="end" textLength="7.7" lengthAdjust="spacingAndGlyphs">0.00</text>
<line x1="290.9" y1="113.51" x2="293.1" y2="113.51" stroke="#606060" stroke-width="0.8"/>
<text x="288.6" y="114.81" font-size="5.4" font-weight="bold" text-anchor="end" textLength="7.7" lengthAdjust="spacingAndGlyphs">1.00</text>
<line x1="290.9" y1="97.68" x2="293.1" y2="97.68" stroke="#606060" stroke-width="0.8"/>
<text x="288.6" y="98.98" font-size="5.4" font-weight="bold" text-anchor="end" textLength="7.7" lengthAdjust="spacingAndGlyphs">2.00</text>
<line x1="290.9" y1="81.84" x2="293.1" y2="81.84" stroke="#606060" stroke-width="0.8"/>
<text x="288.6" y="83.14" font-size="5.4" font-weight="bold" text-anchor="end" textLength="7.7" lengthAdjust="spacingAndGlyphs">3.00</text>
<line x1="290.9" y1="66.01" x2="293.1" y2="66.01" stroke="#606060" stroke-width="0.8"/>
<text x="288.6" y="67.31" font-size="5.4" font-weight="bold" text-anchor="end" textLength="7.7" lengthAdjust="spacingAndGlyphs">4.00</text>
<line x1="290.9" y1="50.17" x2="293.1" y2="50.17" stroke="#606060" stroke-width="0.8"/>
<text x="288.6" y="51.47" font-size="5.4" font-weight="bold" text-anchor="end" textLength="7.7" lengthAdjust="spacingAndGlyphs">5.00</text>
<line x1="290.9" y1="34.34" x2="293.1" y2="34.34" stroke="#606060" stroke-width="0.8"/>
<text x="288.6" y="35.64" font-size="5.4" font-weight="bold" text-anchor="end" textLength="7.7" lengthAdjust="spacingAndGlyphs">6.00</text>
<line x1="290.9" y1="18.5" x2="293.1" y2="18.5" stroke="#606060" stroke-width="0.8"/>
<text x="288.6" y="19.8" font-size="5.4" font-weight="bold" text-anchor="end" textLength="7.7" lengthAdjust="spacingAndGlyphs">7.00</text>
<line x1="292.1" y1="137.26" x2="293.7" y2="137.26" stroke="#606060" stroke-width="0.6"/>
<line x1="292.1" y1="121.43" x2="293.7" y2="121.43" stroke="#606060" stroke-width="0.6"/>
<line x1="292.1" y1="105.59" x2="293.7" y2="105.59" stroke="#606060" stroke-width="0.6"/>
<line x1="292.1" y1="89.76" x2="293.7" y2="89.76" stroke="#606060" stroke-width="0.6"/>
<line x1="292.1" y1="73.92" x2="293.7" y2="73.92" stroke="#606060" stroke-width="0.6"/>
<line x1="292.1" y1="58.09" x2="293.7" y2="58.09" stroke="#606060" stroke-width="0.6"/>
<line x1="292.1" y1="42.25" x2="293.7" y2="42.25" stroke="#606060" stroke-width="0.6"/>
<line x1="292.1" y1="26.42" x2="293.7" y2="26.42" stroke="#606060" stroke-width="0.6"/>
<line x1="300.4" y1="153.1" x2="300.4" y2="155.6" stroke="#606060" stroke-width="0.7"/>
<text x="299.8" y="162.5" font-size="5.0" font-weight="bold" text-anchor="middle" textLength="11.29" lengthAdjust="spacingAndGlyphs">0.5–1</text>
<line x1="314.4" y1="153.1" x2="314.4" y2="155.6" stroke="#606060" stroke-width="0.7"/>
<text x="313.8" y="162.5" font-size="5.0" font-weight="bold" text-anchor="middle" textLength="11.29" lengthAdjust="spacingAndGlyphs">1–1.5</text>
<line x1="328.4" y1="153.1" x2="328.4" y2="155.6" stroke="#606060" stroke-width="0.7"/>
<text x="327.8" y="162.5" font-size="5.0" font-weight="bold" text-anchor="middle" textLength="11.29" lengthAdjust="spacingAndGlyphs">1.5–2</text>
<line x1="342.4" y1="153.1" x2="342.4" y2="155.6" stroke="#606060" stroke-width="0.7"/>
<text x="341.8" y="162.5" font-size="5.0" font-weight="bold" text-anchor="middle" textLength="11.29" lengthAdjust="spacingAndGlyphs">2–2.5</text>
<line x1="356.4" y1="153.1" x2="356.4" y2="155.6" stroke="#606060" stroke-width="0.7"/>
<text x="355.8" y="162.5" font-size="5.0" font-weight="bold" text-anchor="middle" textLength="11.29" lengthAdjust="spacingAndGlyphs">2.5–3</text>
<line x1="370.4" y1="153.1" x2="370.4" y2="155.6" stroke="#606060" stroke-width="0.7"/>
<text x="369.8" y="162.5" font-size="5.0" font-weight="bold" text-anchor="middle" textLength="11.29" lengthAdjust="spacingAndGlyphs">3–3.5</text>
<line x1="384.4" y1="153.1" x2="384.4" y2="155.6" stroke="#606060" stroke-width="0.7"/>
<text x="383.8" y="162.5" font-size="5.0" font-weight="bold" text-anchor="middle" textLength="11.29" lengthAdjust="spacingAndGlyphs">3.5–4</text>
<line x1="398.4" y1="153.1" x2="398.4" y2="155.6" stroke="#606060" stroke-width="0.7"/>
<text x="397.8" y="162.5" font-size="5.0" font-weight="bold" text-anchor="middle" textLength="11.29" lengthAdjust="spacingAndGlyphs">4–4.5</text>
<line x1="412.4" y1="153.1" x2="412.4" y2="155.6" stroke="#606060" stroke-width="0.7"/>
<text x="411.8" y="162.5" font-size="5.0" font-weight="bold" text-anchor="middle" textLength="11.29" lengthAdjust="spacingAndGlyphs">4.5–5</text>
<line x1="426.4" y1="153.1" x2="426.4" y2="155.6" stroke="#606060" stroke-width="0.7"/>
<text x="425.8" y="162.5" font-size="5.0" font-weight="bold" text-anchor="middle" textLength="11.29" lengthAdjust="spacingAndGlyphs">5–5.5</text>
<line x1="440.4" y1="153.1" x2="440.4" y2="155.6" stroke="#606060" stroke-width="0.7"/>
<text x="439.8" y="162.5" font-size="5.0" font-weight="bold" text-anchor="middle" textLength="11.29" lengthAdjust="spacingAndGlyphs">5.5–6</text>
<line x1="454.4" y1="153.1" x2="454.4" y2="155.6" stroke="#606060" stroke-width="0.7"/>
<text x="453.8" y="162.5" font-size="5.0" font-weight="bold" text-anchor="middle" textLength="11.29" lengthAdjust="spacingAndGlyphs">6–6.5</text>
<line x1="468.4" y1="153.1" x2="468.4" y2="155.6" stroke="#606060" stroke-width="0.7"/>
<text x="467.8" y="162.5" font-size="5.0" font-weight="bold" text-anchor="middle" textLength="11.29" lengthAdjust="spacingAndGlyphs">6.5–7</text>
<line x1="482.4" y1="153.1" x2="482.4" y2="155.6" stroke="#606060" stroke-width="0.7"/>
<text x="481.8" y="162.5" font-size="5.0" font-weight="bold" text-anchor="middle" textLength="11.29" lengthAdjust="spacingAndGlyphs">7–7.5</text>
<line x1="496.4" y1="153.1" x2="496.4" y2="155.6" stroke="#606060" stroke-width="0.7"/>
<text x="495.8" y="162.5" font-size="5.0" font-weight="bold" text-anchor="middle" textLength="11.29" lengthAdjust="spacingAndGlyphs">7.5–8</text>
<line x1="510.4" y1="153.1" x2="510.4" y2="155.6" stroke="#606060" stroke-width="0.7"/>
<text x="509.8" y="162.5" font-size="5.0" font-weight="bold" text-anchor="middle" textLength="5.14" lengthAdjust="spacingAndGlyphs">&gt;8</text>
<text x="398" y="173.1" font-size="6.4" font-weight="bold" text-anchor="middle" textLength="22.6" lengthAdjust="spacingAndGlyphs">MD (cm)</text>
<text transform="translate(275.2,73.3) rotate(-90)" x="0" y="0" font-size="7.1" font-weight="bold" text-anchor="middle" textLength="50.2" lengthAdjust="spacingAndGlyphs">Distances (cm)</text>
<text x="0.9" y="195.6" font-size="12.6" font-weight="bold">C</text>
<text x="89" y="192.3" class="tt" font-size="7.4" font-weight="bold" textLength="91.3" lengthAdjust="spacingAndGlyphs">Caudal-to-cranial direction</text>
<text x="104" y="200.8" class="tt" font-size="7.4" font-weight="bold" textLength="61.2" lengthAdjust="spacingAndGlyphs">p95-ED in LN-level</text>
<line x1="33.5" y1="274.76" x2="33.5" y2="329.74" stroke="#6B6B6B" stroke-width="1.05"/>
<line x1="34.1" y1="312.47" x2="34.1" y2="329.74" stroke="#000000" stroke-width="0.9" opacity="0.55"/>
<circle cx="33.3" cy="292.59" r="1.15" fill="#000000"/>
<circle cx="33.3" cy="299.44" r="1.15" fill="#000000"/>
<path d="M34,318.51 A3.2,1.5 0 0 0 34,321.51 Z" fill="#000000"/>
<path d="M34,325.11 A4.1,1.75 0 0 0 34,328.61 Z" fill="#000000"/>
<circle cx="34.2" cy="322.75" r="1.1" fill="#181818"/>
<path d="M48.02,301.5 C48.38,308.9 49.82,313.53 49.82,320.01 C49.82,323.61 48.38,326.18 48.02,330.29 Z" fill="#FF2626" fill-opacity="0.18" stroke="#FF2626" stroke-width="0.6" stroke-opacity="0.85"/>
<line x1="48.02" y1="264.21" x2="48.02" y2="330.29" stroke="#FF2626" stroke-width="1.05"/>
<line x1="48.62" y1="308.22" x2="48.62" y2="326.73" stroke="#C00010" stroke-width="0.9" opacity="0.55"/>
<circle cx="47.82" cy="265.17" r="1.15" fill="#C00010"/>
<circle cx="47.82" cy="272.02" r="1.15" fill="#C00010"/>
<circle cx="47.82" cy="278.88" r="1.15" fill="#C00010"/>
<circle cx="47.82" cy="285.73" r="1.15" fill="#C00010"/>
<circle cx="47.82" cy="292.59" r="1.15" fill="#C00010"/>
<circle cx="47.82" cy="299.44" r="1.15" fill="#C00010"/>
<path d="M48.52,304.8 A3.2,1.5 0 0 0 48.52,307.8 Z" fill="#C00010"/>
<path d="M48.52,311.65 A3.2,1.5 0 0 0 48.52,314.65 Z" fill="#C00010"/>
<path d="M48.52,318.51 A3.2,1.5 0 0 0 48.52,321.51 Z" fill="#C00010"/>
<path d="M48.52,325.36 A3.2,1.5 0 0 0 48.52,328.36 Z" fill="#C00010"/>
<circle cx="48.72" cy="318.5" r="1.1" fill="#181818"/>
<path d="M62.54,303.69 C63.34,309.62 66.54,313.32 66.54,318.5 C66.54,322.48 63.34,325.33 62.54,329.88 Z" fill="#2EF12E" fill-opacity="0.18" stroke="#2EF12E" stroke-width="0.6" stroke-opacity="0.85"/>
<line x1="62.54" y1="256.67" x2="62.54" y2="330.29" stroke="#2EF12E" stroke-width="1.05"/>
<line x1="63.14" y1="305.61" x2="63.14" y2="324.12" stroke="#00A800" stroke-width="0.9" opacity="0.55"/>
<circle cx="62.34" cy="258.31" r="1.15" fill="#00A800"/>
<circle cx="62.34" cy="265.17" r="1.15" fill="#00A800"/>
<circle cx="62.34" cy="272.02" r="1.15" fill="#00A800"/>
<circle cx="62.34" cy="278.88" r="1.15" fill="#00A800"/>
<circle cx="62.34" cy="285.73" r="1.15" fill="#00A800"/>
<circle cx="62.34" cy="292.59" r="1.15" fill="#00A800"/>
<circle cx="62.34" cy="299.44" r="1.15" fill="#00A800"/>
<circle cx="62.34" cy="306.3" r="1.15" fill="#00A800"/>
<path d="M63.04,311.65 A3.2,1.5 0 0 0 63.04,314.65 Z" fill="#00A800"/>
<path d="M63.04,318.51 A3.2,1.5 0 0 0 63.04,321.51 Z" fill="#00A800"/>
<path d="M63.04,325.36 A3.2,1.5 0 0 0 63.04,328.36 Z" fill="#00A800"/>
<circle cx="63.24" cy="315.89" r="1.1" fill="#181818"/>
<path d="M77.06,301.5 C77.7,306.98 80.26,310.41 80.26,315.21 C80.26,320.49 77.7,324.26 77.06,330.29 Z" fill="#3333FF" fill-opacity="0.18" stroke="#3333FF" stroke-width="0.6" stroke-opacity="0.85"/>
<line x1="77.06" y1="262.01" x2="77.06" y2="330.56" stroke="#3333FF" stroke-width="1.05"/>
<line x1="77.66" y1="303.69" x2="77.66" y2="322.2" stroke="#0000B0" stroke-width="0.9" opacity="0.55"/>
<circle cx="76.86" cy="265.17" r="1.15" fill="#0000B0"/>
<circle cx="76.86" cy="272.02" r="1.15" fill="#0000B0"/>
<circle cx="76.86" cy="278.88" r="1.15" fill="#0000B0"/>
<circle cx="76.86" cy="285.73" r="1.15" fill="#0000B0"/>
<circle cx="76.86" cy="292.59" r="1.15" fill="#0000B0"/>
<circle cx="76.86" cy="299.44" r="1.15" fill="#0000B0"/>
<path d="M77.56,304.8 A3.2,1.5 0 0 0 77.56,307.8 Z" fill="#0000B0"/>
<path d="M77.56,311.4 A4.1,1.75 0 0 0 77.56,314.9 Z" fill="#0000B0"/>
<path d="M77.56,318.26 A4.1,1.75 0 0 0 77.56,321.76 Z" fill="#0000B0"/>
<circle cx="76.86" cy="326.86" r="1.15" fill="#0000B0"/>
<circle cx="77.76" cy="313.98" r="1.1" fill="#181818"/>
<line x1="91.58" y1="233.63" x2="91.58" y2="329.74" stroke="#61FFFF" stroke-width="1.05"/>
<line x1="92.18" y1="301.91" x2="92.18" y2="320.42" stroke="#00A8A8" stroke-width="0.9" opacity="0.55"/>
<circle cx="91.38" cy="237.75" r="1.15" fill="#00A8A8"/>
<circle cx="91.38" cy="265.17" r="1.15" fill="#00A8A8"/>
<circle cx="91.38" cy="272.02" r="1.15" fill="#00A8A8"/>
<circle cx="91.38" cy="278.88" r="1.15" fill="#00A8A8"/>
<circle cx="91.38" cy="285.73" r="1.15" fill="#00A8A8"/>
<circle cx="91.38" cy="292.59" r="1.15" fill="#00A8A8"/>
<circle cx="91.38" cy="299.44" r="1.15" fill="#00A8A8"/>
<path d="M92.08,304.8 A3.2,1.5 0 0 0 92.08,307.8 Z" fill="#00A8A8"/>
<path d="M92.08,311.65 A3.2,1.5 0 0 0 92.08,314.65 Z" fill="#00A8A8"/>
<path d="M92.08,318.51 A3.2,1.5 0 0 0 92.08,321.51 Z" fill="#00A8A8"/>
<circle cx="91.38" cy="326.86" r="1.15" fill="#00A8A8"/>
<circle cx="92.28" cy="312.19" r="1.1" fill="#181818"/>
<line x1="106.1" y1="251.05" x2="106.1" y2="330.29" stroke="#FF4CFF" stroke-width="1.05"/>
<line x1="106.7" y1="299.99" x2="106.7" y2="318.5" stroke="#A020A0" stroke-width="0.9" opacity="0.55"/>
<circle cx="105.9" cy="251.46" r="1.15" fill="#A020A0"/>
<circle cx="105.9" cy="258.31" r="1.15" fill="#A020A0"/>
<circle cx="105.9" cy="265.17" r="1.15" fill="#A020A0"/>
<circle cx="105.9" cy="272.02" r="1.15" fill="#A020A0"/>
<circle cx="105.9" cy="278.88" r="1.15" fill="#A020A0"/>
<circle cx="105.9" cy="285.73" r="1.15" fill="#A020A0"/>
<circle cx="105.9" cy="292.59" r="1.15" fill="#A020A0"/>
<path d="M106.6,297.94 A3.2,1.5 0 0 0 106.6,300.94 Z" fill="#A020A0"/>
<path d="M106.6,304.8 A3.2,1.5 0 0 0 106.6,307.8 Z" fill="#A020A0"/>
<path d="M106.6,311.4 A4.1,1.75 0 0 0 106.6,314.9 Z" fill="#A020A0"/>
<path d="M106.6,318.51 A3.2,1.5 0 0 0 106.6,321.51 Z" fill="#A020A0"/>
<circle cx="105.9" cy="326.86" r="1.15" fill="#A020A0"/>
<circle cx="106.8" cy="310.27" r="1.1" fill="#181818"/>
<line x1="120.62" y1="222.53" x2="120.62" y2="335.09" stroke="#FFFF66" stroke-width="1.05"/>
<line x1="121.22" y1="297.39" x2="121.22" y2="315.89" stroke="#B0B000" stroke-width="0.9" opacity="0.55"/>
<path d="M121.12,297.94 A3.2,1.5 0 0 0 121.12,300.94 Z" fill="#B0B000"/>
<path d="M121.12,304.8 A3.2,1.5 0 0 0 121.12,307.8 Z" fill="#B0B000"/>
<path d="M121.12,311.65 A3.2,1.5 0 0 0 121.12,314.65 Z" fill="#B0B000"/>
<circle cx="120.42" cy="320.01" r="1.15" fill="#B0B000"/>
<circle cx="121.32" cy="307.67" r="1.1" fill="#181818"/>
<line x1="135.14" y1="259.27" x2="135.14" y2="326.18" stroke="#B0B061" stroke-width="1.05"/>
<line x1="135.74" y1="295.88" x2="135.74" y2="314.39" stroke="#5A5A00" stroke-width="0.9" opacity="0.55"/>
<circle cx="134.94" cy="265.17" r="1.15" fill="#5A5A00"/>
<circle cx="134.94" cy="272.02" r="1.15" fill="#5A5A00"/>
<circle cx="134.94" cy="285.73" r="1.15" fill="#5A5A00"/>
<circle cx="134.94" cy="292.59" r="1.15" fill="#5A5A00"/>
<path d="M135.64,297.94 A3.2,1.5 0 0 0 135.64,300.94 Z" fill="#5A5A00"/>
<path d="M135.64,304.55 A4.1,1.75 0 0 0 135.64,308.05 Z" fill="#5A5A00"/>
<path d="M135.64,311.65 A3.2,1.5 0 0 0 135.64,314.65 Z" fill="#5A5A00"/>
<circle cx="134.94" cy="320.01" r="1.15" fill="#5A5A00"/>
<circle cx="135.84" cy="306.16" r="1.1" fill="#181818"/>
<line x1="149.66" y1="261.19" x2="149.66" y2="325.22" stroke="#6666B3" stroke-width="1.05"/>
<line x1="150.26" y1="293.96" x2="150.26" y2="312.47" stroke="#00005A" stroke-width="0.9" opacity="0.55"/>
<circle cx="149.46" cy="265.17" r="1.15" fill="#00005A"/>
<circle cx="149.46" cy="292.59" r="1.15" fill="#00005A"/>
<path d="M150.16,297.94 A3.2,1.5 0 0 0 150.16,300.94 Z" fill="#00005A"/>
<path d="M150.16,304.55 A4.1,1.75 0 0 0 150.16,308.05 Z" fill="#00005A"/>
<path d="M150.16,311.65 A3.2,1.5 0 0 0 150.16,314.65 Z" fill="#00005A"/>
<circle cx="150.36" cy="304.24" r="1.1" fill="#181818"/>
<line x1="164.18" y1="279.97" x2="164.18" y2="320.01" stroke="#B061B0" stroke-width="1.05"/>
<line x1="164.78" y1="292.45" x2="164.78" y2="310.96" stroke="#5A005A" stroke-width="0.9" opacity="0.55"/>
<circle cx="163.98" cy="285.73" r="1.15" fill="#5A005A"/>
<circle cx="163.98" cy="292.59" r="1.15" fill="#5A005A"/>
<path d="M164.68,297.94 A3.2,1.5 0 0 0 164.68,300.94 Z" fill="#5A005A"/>
<path d="M164.68,304.8 A3.2,1.5 0 0 0 164.68,307.8 Z" fill="#5A005A"/>
<path d="M164.68,311.65 A3.2,1.5 0 0 0 164.68,314.65 Z" fill="#5A005A"/>
<circle cx="164.88" cy="302.73" r="1.1" fill="#181818"/>
<line x1="178.7" y1="281.48" x2="178.7" y2="327.14" stroke="#B06161" stroke-width="1.05"/>
<line x1="179.3" y1="290.94" x2="179.3" y2="309.45" stroke="#5A0000" stroke-width="0.9" opacity="0.55"/>
<circle cx="178.5" cy="292.59" r="1.15" fill="#5A0000"/>
<path d="M179.2,297.94 A3.2,1.5 0 0 0 179.2,300.94 Z" fill="#5A0000"/>
<path d="M179.2,304.8 A3.2,1.5 0 0 0 179.2,307.8 Z" fill="#5A0000"/>
<circle cx="178.5" cy="313.15" r="1.15" fill="#5A0000"/>
<circle cx="178.5" cy="320.01" r="1.15" fill="#5A0000"/>
<circle cx="179.4" cy="301.22" r="1.1" fill="#181818"/>
<line x1="193.22" y1="261.74" x2="193.22" y2="325.49" stroke="#61B061" stroke-width="1.05"/>
<line x1="193.82" y1="289.98" x2="193.82" y2="308.49" stroke="#005000" stroke-width="0.9" opacity="0.55"/>
<circle cx="193.02" cy="272.02" r="1.15" fill="#005000"/>
<circle cx="193.02" cy="278.88" r="1.15" fill="#005000"/>
<circle cx="193.02" cy="285.73" r="1.15" fill="#005000"/>
<circle cx="193.02" cy="292.59" r="1.15" fill="#005000"/>
<path d="M193.72,297.69 A4.1,1.75 0 0 0 193.72,301.19 Z" fill="#005000"/>
<path d="M193.72,304.8 A3.2,1.5 0 0 0 193.72,307.8 Z" fill="#005000"/>
<circle cx="193.02" cy="313.15" r="1.15" fill="#005000"/>
<circle cx="193.92" cy="300.27" r="1.1" fill="#181818"/>
<line x1="207.74" y1="273.67" x2="207.74" y2="319.73" stroke="#66B3B3" stroke-width="1.05"/>
<line x1="208.34" y1="288.47" x2="208.34" y2="306.98" stroke="#005050" stroke-width="0.9" opacity="0.55"/>
<path d="M208.24,284.23 A3.2,1.5 0 0 0 208.24,287.23 Z" fill="#005050"/>
<path d="M208.24,291.09 A3.2,1.5 0 0 0 208.24,294.09 Z" fill="#005050"/>
<path d="M208.24,297.94 A3.2,1.5 0 0 0 208.24,300.94 Z" fill="#005050"/>
<path d="M208.24,304.8 A3.2,1.5 0 0 0 208.24,307.8 Z" fill="#005050"/>
<circle cx="207.54" cy="313.15" r="1.15" fill="#005050"/>
<circle cx="208.44" cy="298.76" r="1.1" fill="#181818"/>
<line x1="222.26" y1="262.29" x2="222.26" y2="325.49" stroke="#6B6BC8" stroke-width="1.05"/>
<line x1="222.86" y1="294.23" x2="222.86" y2="312.74" stroke="#000080" stroke-width="0.9" opacity="0.55"/>
<circle cx="222.06" cy="278.88" r="1.15" fill="#000080"/>
<circle cx="222.06" cy="285.73" r="1.15" fill="#000080"/>
<path d="M222.76,297.94 A3.2,1.5 0 0 0 222.76,300.94 Z" fill="#000080"/>
<path d="M222.76,304.55 A4.1,1.75 0 0 0 222.76,308.05 Z" fill="#000080"/>
<path d="M222.76,311.65 A3.2,1.5 0 0 0 222.76,314.65 Z" fill="#000080"/>
<circle cx="222.96" cy="304.52" r="1.1" fill="#181818"/>
<line x1="236.78" y1="256.26" x2="236.78" y2="327.96" stroke="#FFBD7A" stroke-width="1.05"/>
<line x1="237.38" y1="287.79" x2="237.38" y2="306.3" stroke="#C06000" stroke-width="0.9" opacity="0.55"/>
<circle cx="236.58" cy="278.88" r="1.15" fill="#C06000"/>
<path d="M237.28,297.94 A3.2,1.5 0 0 0 237.28,300.94 Z" fill="#C06000"/>
<path d="M237.28,304.8 A3.2,1.5 0 0 0 237.28,307.8 Z" fill="#C06000"/>
<circle cx="237.48" cy="298.07" r="1.1" fill="#181818"/>
<line x1="251.3" y1="241.45" x2="251.3" y2="328.64" stroke="#B366FF" stroke-width="1.05"/>
<line x1="251.9" y1="269.69" x2="251.9" y2="288.2" stroke="#6000C0" stroke-width="0.9" opacity="0.55"/>
<circle cx="251.1" cy="265.17" r="1.15" fill="#6000C0"/>
<path d="M251.8,277.38 A3.2,1.5 0 0 0 251.8,280.38 Z" fill="#6000C0"/>
<path d="M251.8,284.23 A3.2,1.5 0 0 0 251.8,287.23 Z" fill="#6000C0"/>
<circle cx="251.1" cy="299.44" r="1.15" fill="#6000C0"/>
<circle cx="251.1" cy="306.3" r="1.15" fill="#6000C0"/>
<circle cx="252" cy="279.97" r="1.1" fill="#181818"/>
<polyline points="33.5,322.75 48.02,318.5 62.54,315.89 77.06,313.98 91.58,312.19 106.1,310.27 120.62,307.67 135.14,306.16 149.66,304.24 164.18,302.73 178.7,301.22 193.22,300.27 207.74,298.76 222.26,304.52 236.78,298.07 251.3,279.97" fill="none" stroke="#b8b8c0" stroke-width="0.75" stroke-dasharray="1.2,1"/>
<polyline points="33.5,290.81 48.02,297.25 62.54,293.27 77.06,293 91.58,290.53 106.1,290.81 120.62,295.74 135.14,295.06 149.66,292.72 164.18,289.3 178.7,291.9 193.22,280.8 207.74,286.56 222.26,276.55 236.78,277.1 251.3,265.85" fill="none" stroke="#505050" stroke-width="0.75"/>
<rect x="227.1" y="206.9" width="29.1" height="15.7" fill="#fff" stroke="#a0a0a0" stroke-width="0.5"/>
<line x1="227.5" y1="211.9" x2="238.3" y2="211.9" stroke="#b8b8b8" stroke-width="0.6" stroke-dasharray="1,0.8"/>
<line x1="227.5" y1="218.5" x2="238.3" y2="218.5" stroke="#606060" stroke-width="0.7"/>
<text x="239.9" y="213.6" font-size="4.8" font-weight="bold" textLength="15.4" lengthAdjust="spacingAndGlyphs">Median</text>
<text x="239.9" y="220.4" font-size="4.8" font-weight="bold" textLength="8.6" lengthAdjust="spacingAndGlyphs">95%</text>
<rect x="25.9" y="206.9" width="232.6" height="137.1" fill="none" stroke="#767676" stroke-width="1.0"/>
<line x1="23.7" y1="337.14" x2="25.9" y2="337.14" stroke="#606060" stroke-width="0.8"/>
<text x="21.7" y="338.44" font-size="5.4" font-weight="bold" text-anchor="end" textLength="8.6" lengthAdjust="spacingAndGlyphs">0.00</text>
<line x1="23.7" y1="323.44" x2="25.9" y2="323.44" stroke="#606060" stroke-width="0.8"/>
<text x="21.7" y="324.74" font-size="5.4" font-weight="bold" text-anchor="end" textLength="8.6" lengthAdjust="spacingAndGlyphs">1.00</text>
<line x1="23.7" y1="309.73" x2="25.9" y2="309.73" stroke="#606060" stroke-width="0.8"/>
<text x="21.7" y="311.03" font-size="5.4" font-weight="bold" text-anchor="end" textLength="8.6" lengthAdjust="spacingAndGlyphs">2.00</text>
<line x1="23.7" y1="296.01" x2="25.9" y2="296.01" stroke="#606060" stroke-width="0.8"/>
<text x="21.7" y="297.31" font-size="5.4" font-weight="bold" text-anchor="end" textLength="8.6" lengthAdjust="spacingAndGlyphs">3.00</text>
<line x1="23.7" y1="282.31" x2="25.9" y2="282.31" stroke="#606060" stroke-width="0.8"/>
<text x="21.7" y="283.61" font-size="5.4" font-weight="bold" text-anchor="end" textLength="8.6" lengthAdjust="spacingAndGlyphs">4.00</text>
<line x1="23.7" y1="268.6" x2="25.9" y2="268.6" stroke="#606060" stroke-width="0.8"/>
<text x="21.7" y="269.9" font-size="5.4" font-weight="bold" text-anchor="end" textLength="8.6" lengthAdjust="spacingAndGlyphs">5.00</text>
<line x1="23.7" y1="254.88" x2="25.9" y2="254.88" stroke="#606060" stroke-width="0.8"/>
<text x="21.7" y="256.19" font-size="5.4" font-weight="bold" text-anchor="end" textLength="8.6" lengthAdjust="spacingAndGlyphs">6.00</text>
<line x1="23.7" y1="241.18" x2="25.9" y2="241.18" stroke="#606060" stroke-width="0.8"/>
<text x="21.7" y="242.48" font-size="5.4" font-weight="bold" text-anchor="end" textLength="8.6" lengthAdjust="spacingAndGlyphs">7.00</text>
<line x1="23.7" y1="227.47" x2="25.9" y2="227.47" stroke="#606060" stroke-width="0.8"/>
<text x="21.7" y="228.77" font-size="5.4" font-weight="bold" text-anchor="end" textLength="8.6" lengthAdjust="spacingAndGlyphs">8.00</text>
<line x1="23.7" y1="213.75" x2="25.9" y2="213.75" stroke="#606060" stroke-width="0.8"/>
<text x="21.7" y="215.06" font-size="5.4" font-weight="bold" text-anchor="end" textLength="8.6" lengthAdjust="spacingAndGlyphs">9.00</text>
<line x1="24.9" y1="330.29" x2="26.5" y2="330.29" stroke="#606060" stroke-width="0.6"/>
<line x1="24.9" y1="316.58" x2="26.5" y2="316.58" stroke="#606060" stroke-width="0.6"/>
<line x1="24.9" y1="302.87" x2="26.5" y2="302.87" stroke="#606060" stroke-width="0.6"/>
<line x1="24.9" y1="289.16" x2="26.5" y2="289.16" stroke="#606060" stroke-width="0.6"/>
<line x1="24.9" y1="275.45" x2="26.5" y2="275.45" stroke="#606060" stroke-width="0.6"/>
<line x1="24.9" y1="261.74" x2="26.5" y2="261.74" stroke="#606060" stroke-width="0.6"/>
<line x1="24.9" y1="248.03" x2="26.5" y2="248.03" stroke="#606060" stroke-width="0.6"/>
<line x1="24.9" y1="234.32" x2="26.5" y2="234.32" stroke="#606060" stroke-width="0.6"/>
<line x1="24.9" y1="220.61" x2="26.5" y2="220.61" stroke="#606060" stroke-width="0.6"/>
<line x1="24.9" y1="206.9" x2="26.5" y2="206.9" stroke="#606060" stroke-width="0.6"/>
<line x1="33.5" y1="344" x2="33.5" y2="346.5" stroke="#606060" stroke-width="0.7"/>
<text x="32.9" y="353.4" font-size="5.0" font-weight="bold" text-anchor="middle" textLength="11.29" lengthAdjust="spacingAndGlyphs">0.5–1</text>
<line x1="48.02" y1="344" x2="48.02" y2="346.5" stroke="#606060" stroke-width="0.7"/>
<text x="47.42" y="353.4" font-size="5.0" font-weight="bold" text-anchor="middle" textLength="11.29" lengthAdjust="spacingAndGlyphs">1–1.5</text>
<line x1="62.54" y1="344" x2="62.54" y2="346.5" stroke="#606060" stroke-width="0.7"/>
<text x="61.94" y="353.4" font-size="5.0" font-weight="bold" text-anchor="middle" textLength="11.29" lengthAdjust="spacingAndGlyphs">1.5–2</text>
<line x1="77.06" y1="344" x2="77.06" y2="346.5" stroke="#606060" stroke-width="0.7"/>
<text x="76.46" y="353.4" font-size="5.0" font-weight="bold" text-anchor="middle" textLength="11.29" lengthAdjust="spacingAndGlyphs">2–2.5</text>
<line x1="91.58" y1="344" x2="91.58" y2="346.5" stroke="#606060" stroke-width="0.7"/>
<text x="90.98" y="353.4" font-size="5.0" font-weight="bold" text-anchor="middle" textLength="11.29" lengthAdjust="spacingAndGlyphs">2.5–3</text>
<line x1="106.1" y1="344" x2="106.1" y2="346.5" stroke="#606060" stroke-width="0.7"/>
<text x="105.5" y="353.4" font-size="5.0" font-weight="bold" text-anchor="middle" textLength="11.29" lengthAdjust="spacingAndGlyphs">3–3.5</text>
<line x1="120.62" y1="344" x2="120.62" y2="346.5" stroke="#606060" stroke-width="0.7"/>
<text x="120.02" y="353.4" font-size="5.0" font-weight="bold" text-anchor="middle" textLength="11.29" lengthAdjust="spacingAndGlyphs">3.5–4</text>
<line x1="135.14" y1="344" x2="135.14" y2="346.5" stroke="#606060" stroke-width="0.7"/>
<text x="134.54" y="353.4" font-size="5.0" font-weight="bold" text-anchor="middle" textLength="11.29" lengthAdjust="spacingAndGlyphs">4–4.5</text>
<line x1="149.66" y1="344" x2="149.66" y2="346.5" stroke="#606060" stroke-width="0.7"/>
<text x="149.06" y="353.4" font-size="5.0" font-weight="bold" text-anchor="middle" textLength="11.29" lengthAdjust="spacingAndGlyphs">4.5–5</text>
<line x1="164.18" y1="344" x2="164.18" y2="346.5" stroke="#606060" stroke-width="0.7"/>
<text x="163.58" y="353.4" font-size="5.0" font-weight="bold" text-anchor="middle" textLength="11.29" lengthAdjust="spacingAndGlyphs">5–5.5</text>
<line x1="178.7" y1="344" x2="178.7" y2="346.5" stroke="#606060" stroke-width="0.7"/>
<text x="178.1" y="353.4" font-size="5.0" font-weight="bold" text-anchor="middle" textLength="11.29" lengthAdjust="spacingAndGlyphs">5.5–6</text>
<line x1="193.22" y1="344" x2="193.22" y2="346.5" stroke="#606060" stroke-width="0.7"/>
<text x="192.62" y="353.4" font-size="5.0" font-weight="bold" text-anchor="middle" textLength="11.29" lengthAdjust="spacingAndGlyphs">6–6.5</text>
<line x1="207.74" y1="344" x2="207.74" y2="346.5" stroke="#606060" stroke-width="0.7"/>
<text x="207.14" y="353.4" font-size="5.0" font-weight="bold" text-anchor="middle" textLength="11.29" lengthAdjust="spacingAndGlyphs">6.5–7</text>
<line x1="222.26" y1="344" x2="222.26" y2="346.5" stroke="#606060" stroke-width="0.7"/>
<text x="221.66" y="353.4" font-size="5.0" font-weight="bold" text-anchor="middle" textLength="11.29" lengthAdjust="spacingAndGlyphs">7–7.5</text>
<line x1="236.78" y1="344" x2="236.78" y2="346.5" stroke="#606060" stroke-width="0.7"/>
<text x="236.18" y="353.4" font-size="5.0" font-weight="bold" text-anchor="middle" textLength="11.29" lengthAdjust="spacingAndGlyphs">7.5–8</text>
<line x1="251.3" y1="344" x2="251.3" y2="346.5" stroke="#606060" stroke-width="0.7"/>
<text x="250.7" y="353.4" font-size="5.0" font-weight="bold" text-anchor="middle" textLength="5.14" lengthAdjust="spacingAndGlyphs">&gt;8</text>
<text x="141" y="365" font-size="6.4" font-weight="bold" text-anchor="middle" textLength="22.6" lengthAdjust="spacingAndGlyphs">MD (cm)</text>
<text transform="translate(6.3,269.4) rotate(-90)" x="0" y="0" font-size="7.1" font-weight="bold" text-anchor="middle" textLength="49.4" lengthAdjust="spacingAndGlyphs">Distances (cm)</text>
<text x="268.8" y="196" font-size="12.6" font-weight="bold">D</text>
<text x="353.9" y="191" class="tt" font-size="7.4" font-weight="bold" textLength="90.6" lengthAdjust="spacingAndGlyphs">Caudal-to-cranial direction</text>
<text x="367.3" y="199.3" class="tt" font-size="7.4" font-weight="bold" textLength="63" lengthAdjust="spacingAndGlyphs">p95-VD in LN-level</text>
<line x1="300.8" y1="302.69" x2="300.8" y2="330.6" stroke="#6B6B6B" stroke-width="1.05"/>
<line x1="301.4" y1="309.77" x2="301.4" y2="328.52" stroke="#000000" stroke-width="0.9" opacity="0.55"/>
<path d="M301.3,311.05 A3.2,1.5 0 0 0 301.3,314.05 Z" fill="#000000"/>
<path d="M301.3,317.74 A4.1,1.75 0 0 0 301.3,321.24 Z" fill="#000000"/>
<circle cx="301.5" cy="320.19" r="1.1" fill="#181818"/>
<path d="M314.86,307.13 C315.16,311.24 316.36,313.81 316.36,317.41 C316.36,321.06 315.16,323.66 314.86,327.83 Z" fill="#FF2626" fill-opacity="0.18" stroke="#FF2626" stroke-width="0.6" stroke-opacity="0.85"/>
<line x1="314.86" y1="272.96" x2="314.86" y2="328.24" stroke="#FF2626" stroke-width="1.05"/>
<line x1="315.46" y1="306.57" x2="315.46" y2="325.33" stroke="#C00010" stroke-width="0.9" opacity="0.55"/>
<circle cx="314.66" cy="277.82" r="1.15" fill="#C00010"/>
<circle cx="314.66" cy="284.77" r="1.15" fill="#C00010"/>
<circle cx="314.66" cy="291.71" r="1.15" fill="#C00010"/>
<circle cx="314.66" cy="298.66" r="1.15" fill="#C00010"/>
<path d="M315.36,304.1 A3.2,1.5 0 0 0 315.36,307.1 Z" fill="#C00010"/>
<path d="M315.36,311.05 A3.2,1.5 0 0 0 315.36,314.05 Z" fill="#C00010"/>
<path d="M315.36,317.74 A4.1,1.75 0 0 0 315.36,321.24 Z" fill="#C00010"/>
<circle cx="315.56" cy="316.99" r="1.1" fill="#181818"/>
<path d="M328.92,301.3 C329.66,306.57 332.62,309.87 332.62,314.49 C332.62,318.92 329.66,322.08 328.92,327.13 Z" fill="#2EF12E" fill-opacity="0.18" stroke="#2EF12E" stroke-width="0.6" stroke-opacity="0.85"/>
<line x1="328.92" y1="262.82" x2="328.92" y2="328.24" stroke="#2EF12E" stroke-width="1.05"/>
<line x1="329.52" y1="302.82" x2="329.52" y2="321.58" stroke="#00A800" stroke-width="0.9" opacity="0.55"/>
<circle cx="328.72" cy="263.93" r="1.15" fill="#00A800"/>
<circle cx="328.72" cy="270.88" r="1.15" fill="#00A800"/>
<circle cx="328.72" cy="277.82" r="1.15" fill="#00A800"/>
<circle cx="328.72" cy="284.77" r="1.15" fill="#00A800"/>
<circle cx="328.72" cy="291.71" r="1.15" fill="#00A800"/>
<circle cx="328.72" cy="298.66" r="1.15" fill="#00A800"/>
<path d="M329.42,304.1 A3.2,1.5 0 0 0 329.42,307.1 Z" fill="#00A800"/>
<path d="M329.42,311.05 A3.2,1.5 0 0 0 329.42,314.05 Z" fill="#00A800"/>
<path d="M329.42,317.99 A3.2,1.5 0 0 0 329.42,320.99 Z" fill="#00A800"/>
<circle cx="328.92" cy="243.1" r="1.05" fill="#00A800"/>
<circle cx="329.62" cy="313.24" r="1.1" fill="#181818"/>
<path d="M342.98,303.66 C343.56,309.16 345.88,312.6 345.88,317.41 C345.88,321.06 343.56,323.66 342.98,327.83 Z" fill="#3333FF" fill-opacity="0.18" stroke="#3333FF" stroke-width="0.6" stroke-opacity="0.85"/>
<line x1="342.98" y1="273.79" x2="342.98" y2="329.08" stroke="#3333FF" stroke-width="1.05"/>
<line x1="343.58" y1="302.13" x2="343.58" y2="320.88" stroke="#0000B0" stroke-width="0.9" opacity="0.55"/>
<circle cx="342.78" cy="277.82" r="1.15" fill="#0000B0"/>
<circle cx="342.78" cy="284.77" r="1.15" fill="#0000B0"/>
<circle cx="342.78" cy="291.71" r="1.15" fill="#0000B0"/>
<circle cx="342.78" cy="298.66" r="1.15" fill="#0000B0"/>
<path d="M343.48,304.1 A3.2,1.5 0 0 0 343.48,307.1 Z" fill="#0000B0"/>
<path d="M343.48,311.05 A3.2,1.5 0 0 0 343.48,314.05 Z" fill="#0000B0"/>
<path d="M343.48,317.99 A3.2,1.5 0 0 0 343.48,320.99 Z" fill="#0000B0"/>
<circle cx="342.98" cy="250.04" r="1.05" fill="#0000B0"/>
<circle cx="342.98" cy="256.99" r="1.05" fill="#0000B0"/>
<circle cx="343.68" cy="312.55" r="1.1" fill="#181818"/>
<line x1="357.04" y1="220.18" x2="357.04" y2="329.91" stroke="#61FFFF" stroke-width="1.05"/>
<line x1="357.64" y1="300.32" x2="357.64" y2="319.08" stroke="#00A8A8" stroke-width="0.9" opacity="0.55"/>
<circle cx="356.84" cy="222.26" r="1.15" fill="#00A8A8"/>
<circle cx="356.84" cy="263.93" r="1.15" fill="#00A8A8"/>
<circle cx="356.84" cy="277.82" r="1.15" fill="#00A8A8"/>
<circle cx="356.84" cy="291.71" r="1.15" fill="#00A8A8"/>
<path d="M357.54,297.16 A3.2,1.5 0 0 0 357.54,300.16 Z" fill="#00A8A8"/>
<path d="M357.54,304.1 A3.2,1.5 0 0 0 357.54,307.1 Z" fill="#00A8A8"/>
<path d="M357.54,311.05 A3.2,1.5 0 0 0 357.54,314.05 Z" fill="#00A8A8"/>
<path d="M357.54,317.99 A3.2,1.5 0 0 0 357.54,320.99 Z" fill="#00A8A8"/>
<circle cx="357.74" cy="310.74" r="1.1" fill="#181818"/>
<line x1="371.1" y1="257.82" x2="371.1" y2="330.33" stroke="#FF4CFF" stroke-width="1.05"/>
<line x1="371.7" y1="300.6" x2="371.7" y2="319.35" stroke="#A020A0" stroke-width="0.9" opacity="0.55"/>
<circle cx="370.9" cy="263.93" r="1.15" fill="#A020A0"/>
<circle cx="370.9" cy="277.82" r="1.15" fill="#A020A0"/>
<circle cx="370.9" cy="284.77" r="1.15" fill="#A020A0"/>
<circle cx="370.9" cy="291.71" r="1.15" fill="#A020A0"/>
<path d="M371.6,297.16 A3.2,1.5 0 0 0 371.6,300.16 Z" fill="#A020A0"/>
<path d="M371.6,304.1 A3.2,1.5 0 0 0 371.6,307.1 Z" fill="#A020A0"/>
<path d="M371.6,311.05 A3.2,1.5 0 0 0 371.6,314.05 Z" fill="#A020A0"/>
<path d="M371.6,317.99 A3.2,1.5 0 0 0 371.6,320.99 Z" fill="#A020A0"/>
<circle cx="371.8" cy="311.02" r="1.1" fill="#181818"/>
<line x1="385.16" y1="264.63" x2="385.16" y2="329.91" stroke="#FFFF66" stroke-width="1.05"/>
<line x1="385.76" y1="299.77" x2="385.76" y2="318.52" stroke="#B0B000" stroke-width="0.9" opacity="0.55"/>
<circle cx="384.96" cy="291.71" r="1.15" fill="#B0B000"/>
<path d="M385.66,297.16 A3.2,1.5 0 0 0 385.66,300.16 Z" fill="#B0B000"/>
<path d="M385.66,304.1 A3.2,1.5 0 0 0 385.66,307.1 Z" fill="#B0B000"/>
<path d="M385.66,311.05 A3.2,1.5 0 0 0 385.66,314.05 Z" fill="#B0B000"/>
<path d="M385.66,317.99 A3.2,1.5 0 0 0 385.66,320.99 Z" fill="#B0B000"/>
<circle cx="385.86" cy="310.19" r="1.1" fill="#181818"/>
<line x1="399.22" y1="247.26" x2="399.22" y2="330.33" stroke="#B0B061" stroke-width="1.05"/>
<line x1="399.82" y1="298.8" x2="399.82" y2="317.55" stroke="#5A5A00" stroke-width="0.9" opacity="0.55"/>
<circle cx="399.02" cy="256.99" r="1.15" fill="#5A5A00"/>
<circle cx="399.02" cy="270.88" r="1.15" fill="#5A5A00"/>
<circle cx="399.02" cy="277.82" r="1.15" fill="#5A5A00"/>
<circle cx="399.02" cy="284.77" r="1.15" fill="#5A5A00"/>
<path d="M399.72,290.21 A3.2,1.5 0 0 0 399.72,293.21 Z" fill="#5A5A00"/>
<path d="M399.72,297.16 A3.2,1.5 0 0 0 399.72,300.16 Z" fill="#5A5A00"/>
<path d="M399.72,304.1 A3.2,1.5 0 0 0 399.72,307.1 Z" fill="#5A5A00"/>
<path d="M399.72,311.05 A3.2,1.5 0 0 0 399.72,314.05 Z" fill="#5A5A00"/>
<path d="M399.72,317.99 A3.2,1.5 0 0 0 399.72,320.99 Z" fill="#5A5A00"/>
<circle cx="399.92" cy="309.21" r="1.1" fill="#181818"/>
<line x1="413.28" y1="242.68" x2="413.28" y2="330.33" stroke="#6666B3" stroke-width="1.05"/>
<line x1="413.88" y1="297.27" x2="413.88" y2="316.02" stroke="#00005A" stroke-width="0.9" opacity="0.55"/>
<circle cx="413.08" cy="250.04" r="1.15" fill="#00005A"/>
<circle cx="413.08" cy="277.82" r="1.15" fill="#00005A"/>
<circle cx="413.08" cy="284.77" r="1.15" fill="#00005A"/>
<path d="M413.78,290.21 A3.2,1.5 0 0 0 413.78,293.21 Z" fill="#00005A"/>
<path d="M413.78,297.16 A3.2,1.5 0 0 0 413.78,300.16 Z" fill="#00005A"/>
<path d="M413.78,304.1 A3.2,1.5 0 0 0 413.78,307.1 Z" fill="#00005A"/>
<path d="M413.78,311.05 A3.2,1.5 0 0 0 413.78,314.05 Z" fill="#00005A"/>
<path d="M413.78,317.99 A3.2,1.5 0 0 0 413.78,320.99 Z" fill="#00005A"/>
<circle cx="413.98" cy="307.69" r="1.1" fill="#181818"/>
<line x1="427.34" y1="258.38" x2="427.34" y2="329.91" stroke="#B061B0" stroke-width="1.05"/>
<line x1="427.94" y1="295.74" x2="427.94" y2="314.49" stroke="#5A005A" stroke-width="0.9" opacity="0.55"/>
<circle cx="427.14" cy="270.88" r="1.15" fill="#5A005A"/>
<circle cx="427.14" cy="277.82" r="1.15" fill="#5A005A"/>
<circle cx="427.14" cy="284.77" r="1.15" fill="#5A005A"/>
<circle cx="427.14" cy="291.71" r="1.15" fill="#5A005A"/>
<path d="M427.84,297.16 A3.2,1.5 0 0 0 427.84,300.16 Z" fill="#5A005A"/>
<path d="M427.84,304.1 A3.2,1.5 0 0 0 427.84,307.1 Z" fill="#5A005A"/>
<path d="M427.84,311.05 A3.2,1.5 0 0 0 427.84,314.05 Z" fill="#5A005A"/>
<path d="M427.84,317.99 A3.2,1.5 0 0 0 427.84,320.99 Z" fill="#5A005A"/>
<circle cx="428.04" cy="306.16" r="1.1" fill="#181818"/>
<line x1="441.4" y1="264.63" x2="441.4" y2="330.33" stroke="#B06161" stroke-width="1.05"/>
<line x1="442" y1="292.68" x2="442" y2="311.44" stroke="#5A0000" stroke-width="0.9" opacity="0.55"/>
<circle cx="441.2" cy="277.82" r="1.15" fill="#5A0000"/>
<circle cx="441.2" cy="284.77" r="1.15" fill="#5A0000"/>
<path d="M441.9,290.21 A3.2,1.5 0 0 0 441.9,293.21 Z" fill="#5A0000"/>
<path d="M441.9,297.16 A3.2,1.5 0 0 0 441.9,300.16 Z" fill="#5A0000"/>
<path d="M441.9,304.1 A3.2,1.5 0 0 0 441.9,307.1 Z" fill="#5A0000"/>
<path d="M441.9,311.05 A3.2,1.5 0 0 0 441.9,314.05 Z" fill="#5A0000"/>
<path d="M441.9,317.99 A3.2,1.5 0 0 0 441.9,320.99 Z" fill="#5A0000"/>
<circle cx="442.1" cy="303.1" r="1.1" fill="#181818"/>
<line x1="455.46" y1="248.79" x2="455.46" y2="329.91" stroke="#61B061" stroke-width="1.05"/>
<line x1="456.06" y1="295.19" x2="456.06" y2="313.94" stroke="#005000" stroke-width="0.9" opacity="0.55"/>
<circle cx="455.26" cy="270.88" r="1.15" fill="#005000"/>
<circle cx="455.26" cy="277.82" r="1.15" fill="#005000"/>
<circle cx="455.26" cy="284.77" r="1.15" fill="#005000"/>
<circle cx="455.26" cy="291.71" r="1.15" fill="#005000"/>
<path d="M455.96,297.16 A3.2,1.5 0 0 0 455.96,300.16 Z" fill="#005000"/>
<path d="M455.96,304.1 A3.2,1.5 0 0 0 455.96,307.1 Z" fill="#005000"/>
<path d="M455.96,311.05 A3.2,1.5 0 0 0 455.96,314.05 Z" fill="#005000"/>
<path d="M455.96,317.99 A3.2,1.5 0 0 0 455.96,320.99 Z" fill="#005000"/>
<circle cx="456.16" cy="305.6" r="1.1" fill="#181818"/>
<line x1="469.52" y1="247.26" x2="469.52" y2="329.91" stroke="#66B3B3" stroke-width="1.05"/>
<line x1="470.12" y1="289.21" x2="470.12" y2="307.96" stroke="#005050" stroke-width="0.9" opacity="0.55"/>
<circle cx="469.32" cy="270.88" r="1.15" fill="#005050"/>
<circle cx="469.32" cy="277.82" r="1.15" fill="#005050"/>
<circle cx="469.32" cy="284.77" r="1.15" fill="#005050"/>
<path d="M470.02,290.21 A3.2,1.5 0 0 0 470.02,293.21 Z" fill="#005050"/>
<path d="M470.02,297.16 A3.2,1.5 0 0 0 470.02,300.16 Z" fill="#005050"/>
<path d="M470.02,304.1 A3.2,1.5 0 0 0 470.02,307.1 Z" fill="#005050"/>
<circle cx="469.32" cy="312.55" r="1.15" fill="#005050"/>
<path d="M470.02,317.99 A3.2,1.5 0 0 0 470.02,320.99 Z" fill="#005050"/>
<circle cx="470.22" cy="299.63" r="1.1" fill="#181818"/>
<line x1="483.58" y1="238.24" x2="483.58" y2="329.91" stroke="#6B6BC8" stroke-width="1.05"/>
<line x1="484.18" y1="301.71" x2="484.18" y2="320.46" stroke="#000080" stroke-width="0.9" opacity="0.55"/>
<circle cx="483.38" cy="263.93" r="1.15" fill="#000080"/>
<circle cx="483.38" cy="291.71" r="1.15" fill="#000080"/>
<circle cx="483.38" cy="298.66" r="1.15" fill="#000080"/>
<path d="M484.08,304.1 A3.2,1.5 0 0 0 484.08,307.1 Z" fill="#000080"/>
<path d="M484.08,310.8 A4.1,1.75 0 0 0 484.08,314.3 Z" fill="#000080"/>
<path d="M484.08,317.99 A3.2,1.5 0 0 0 484.08,320.99 Z" fill="#000080"/>
<circle cx="484.28" cy="312.13" r="1.1" fill="#181818"/>
<line x1="497.64" y1="236.01" x2="497.64" y2="329.91" stroke="#FFBD7A" stroke-width="1.05"/>
<line x1="498.24" y1="276.85" x2="498.24" y2="295.6" stroke="#C06000" stroke-width="0.9" opacity="0.55"/>
<path d="M498.14,276.32 A3.2,1.5 0 0 0 498.14,279.32 Z" fill="#C06000"/>
<path d="M498.14,283.27 A3.2,1.5 0 0 0 498.14,286.27 Z" fill="#C06000"/>
<circle cx="497.44" cy="298.66" r="1.15" fill="#C06000"/>
<circle cx="497.44" cy="319.49" r="1.15" fill="#C06000"/>
<circle cx="498.34" cy="287.27" r="1.1" fill="#181818"/>
<line x1="511.7" y1="217.82" x2="511.7" y2="329.91" stroke="#B366FF" stroke-width="1.05"/>
<line x1="512.3" y1="272.13" x2="512.3" y2="290.88" stroke="#6000C0" stroke-width="0.9" opacity="0.55"/>
<circle cx="511.5" cy="250.04" r="1.15" fill="#6000C0"/>
<circle cx="511.5" cy="263.93" r="1.15" fill="#6000C0"/>
<path d="M512.2,290.21 A3.2,1.5 0 0 0 512.2,293.21 Z" fill="#6000C0"/>
<circle cx="511.5" cy="319.49" r="1.15" fill="#6000C0"/>
<circle cx="512.4" cy="282.55" r="1.1" fill="#181818"/>
<polyline points="300.8,320.19 314.86,316.99 328.92,313.24 342.98,312.55 357.04,310.74 371.1,311.02 385.16,310.19 399.22,309.21 413.28,307.69 427.34,306.16 441.4,303.1 455.46,305.6 469.52,299.63 483.58,312.13 497.64,287.27 511.7,282.55" fill="none" stroke="#b8b8c0" stroke-width="0.75" stroke-dasharray="1.2,1"/>
<polyline points="300.8,309.21 314.86,298.1 328.92,295.6 342.98,294.07 357.04,291.57 371.1,288.1 385.16,289.21 399.22,286.99 413.28,283.1 427.34,280.46 441.4,281.99 455.46,270.46 469.52,272.96 483.58,259.9 497.64,264.63 511.7,253.38" fill="none" stroke="#505050" stroke-width="0.75"/>
<rect x="492.2" y="204.8" width="24.7" height="13.5" fill="#fff" stroke="#a0a0a0" stroke-width="0.5"/>
<line x1="492.6" y1="209.4" x2="501.8" y2="209.4" stroke="#b8b8b8" stroke-width="0.6" stroke-dasharray="1,0.8"/>
<line x1="492.6" y1="214.9" x2="501.8" y2="214.9" stroke="#606060" stroke-width="0.7"/>
<text x="503.3" y="210.6" font-size="4.8" font-weight="bold" textLength="13.2" lengthAdjust="spacingAndGlyphs">Median</text>
<text x="503.6" y="216.5" font-size="4.8" font-weight="bold" textLength="7.3" lengthAdjust="spacingAndGlyphs">95%</text>
<rect x="293.5" y="204.9" width="224.8" height="138.9" fill="none" stroke="#767676" stroke-width="1.0"/>
<line x1="291.3" y1="336.86" x2="293.5" y2="336.86" stroke="#606060" stroke-width="0.8"/>
<text x="289.3" y="338.16" font-size="5.4" font-weight="bold" text-anchor="end" textLength="8.25" lengthAdjust="spacingAndGlyphs">1.00</text>
<line x1="291.3" y1="322.97" x2="293.5" y2="322.97" stroke="#606060" stroke-width="0.8"/>
<text x="289.3" y="324.27" font-size="5.4" font-weight="bold" text-anchor="end" textLength="8.25" lengthAdjust="spacingAndGlyphs">0.00</text>
<line x1="291.3" y1="309.07" x2="293.5" y2="309.07" stroke="#606060" stroke-width="0.8"/>
<text x="289.3" y="310.38" font-size="5.4" font-weight="bold" text-anchor="end" textLength="8.25" lengthAdjust="spacingAndGlyphs">1.00</text>
<line x1="291.3" y1="295.19" x2="293.5" y2="295.19" stroke="#606060" stroke-width="0.8"/>
<text x="289.3" y="296.49" font-size="5.4" font-weight="bold" text-anchor="end" textLength="8.25" lengthAdjust="spacingAndGlyphs">2.00</text>
<line x1="291.3" y1="281.3" x2="293.5" y2="281.3" stroke="#606060" stroke-width="0.8"/>
<text x="289.3" y="282.6" font-size="5.4" font-weight="bold" text-anchor="end" textLength="8.25" lengthAdjust="spacingAndGlyphs">3.00</text>
<line x1="291.3" y1="267.4" x2="293.5" y2="267.4" stroke="#606060" stroke-width="0.8"/>
<text x="289.3" y="268.7" font-size="5.4" font-weight="bold" text-anchor="end" textLength="8.25" lengthAdjust="spacingAndGlyphs">4.00</text>
<line x1="291.3" y1="253.52" x2="293.5" y2="253.52" stroke="#606060" stroke-width="0.8"/>
<text x="289.3" y="254.82" font-size="5.4" font-weight="bold" text-anchor="end" textLength="8.25" lengthAdjust="spacingAndGlyphs">5.00</text>
<line x1="291.3" y1="239.62" x2="293.5" y2="239.62" stroke="#606060" stroke-width="0.8"/>
<text x="289.3" y="240.93" font-size="5.4" font-weight="bold" text-anchor="end" textLength="8.25" lengthAdjust="spacingAndGlyphs">6.00</text>
<line x1="291.3" y1="225.74" x2="293.5" y2="225.74" stroke="#606060" stroke-width="0.8"/>
<text x="289.3" y="227.04" font-size="5.4" font-weight="bold" text-anchor="end" textLength="8.25" lengthAdjust="spacingAndGlyphs">7.00</text>
<line x1="291.3" y1="211.85" x2="293.5" y2="211.85" stroke="#606060" stroke-width="0.8"/>
<text x="289.3" y="213.15" font-size="5.4" font-weight="bold" text-anchor="end" textLength="8.25" lengthAdjust="spacingAndGlyphs">8.00</text>
<line x1="292.5" y1="329.91" x2="294.1" y2="329.91" stroke="#606060" stroke-width="0.6"/>
<line x1="292.5" y1="316.02" x2="294.1" y2="316.02" stroke="#606060" stroke-width="0.6"/>
<line x1="292.5" y1="302.13" x2="294.1" y2="302.13" stroke="#606060" stroke-width="0.6"/>
<line x1="292.5" y1="288.24" x2="294.1" y2="288.24" stroke="#606060" stroke-width="0.6"/>
<line x1="292.5" y1="274.35" x2="294.1" y2="274.35" stroke="#606060" stroke-width="0.6"/>
<line x1="292.5" y1="260.46" x2="294.1" y2="260.46" stroke="#606060" stroke-width="0.6"/>
<line x1="292.5" y1="246.57" x2="294.1" y2="246.57" stroke="#606060" stroke-width="0.6"/>
<line x1="292.5" y1="232.68" x2="294.1" y2="232.68" stroke="#606060" stroke-width="0.6"/>
<line x1="292.5" y1="218.79" x2="294.1" y2="218.79" stroke="#606060" stroke-width="0.6"/>
<line x1="292.5" y1="204.9" x2="294.1" y2="204.9" stroke="#606060" stroke-width="0.6"/>
<line x1="300.8" y1="343.8" x2="300.8" y2="346.3" stroke="#606060" stroke-width="0.7"/>
<text x="300.2" y="353.7" font-size="5.0" font-weight="bold" text-anchor="middle" textLength="11.29" lengthAdjust="spacingAndGlyphs">0.5–1</text>
<line x1="314.86" y1="343.8" x2="314.86" y2="346.3" stroke="#606060" stroke-width="0.7"/>
<text x="314.26" y="353.7" font-size="5.0" font-weight="bold" text-anchor="middle" textLength="11.29" lengthAdjust="spacingAndGlyphs">1–1.5</text>
<line x1="328.92" y1="343.8" x2="328.92" y2="346.3" stroke="#606060" stroke-width="0.7"/>
<text x="328.32" y="353.7" font-size="5.0" font-weight="bold" text-anchor="middle" textLength="11.29" lengthAdjust="spacingAndGlyphs">1.5–2</text>
<line x1="342.98" y1="343.8" x2="342.98" y2="346.3" stroke="#606060" stroke-width="0.7"/>
<text x="342.38" y="353.7" font-size="5.0" font-weight="bold" text-anchor="middle" textLength="11.29" lengthAdjust="spacingAndGlyphs">2–2.5</text>
<line x1="357.04" y1="343.8" x2="357.04" y2="346.3" stroke="#606060" stroke-width="0.7"/>
<text x="356.44" y="353.7" font-size="5.0" font-weight="bold" text-anchor="middle" textLength="11.29" lengthAdjust="spacingAndGlyphs">2.5–3</text>
<line x1="371.1" y1="343.8" x2="371.1" y2="346.3" stroke="#606060" stroke-width="0.7"/>
<text x="370.5" y="353.7" font-size="5.0" font-weight="bold" text-anchor="middle" textLength="11.29" lengthAdjust="spacingAndGlyphs">3–3.5</text>
<line x1="385.16" y1="343.8" x2="385.16" y2="346.3" stroke="#606060" stroke-width="0.7"/>
<text x="384.56" y="353.7" font-size="5.0" font-weight="bold" text-anchor="middle" textLength="11.29" lengthAdjust="spacingAndGlyphs">3.5–4</text>
<line x1="399.22" y1="343.8" x2="399.22" y2="346.3" stroke="#606060" stroke-width="0.7"/>
<text x="398.62" y="353.7" font-size="5.0" font-weight="bold" text-anchor="middle" textLength="11.29" lengthAdjust="spacingAndGlyphs">4–4.5</text>
<line x1="413.28" y1="343.8" x2="413.28" y2="346.3" stroke="#606060" stroke-width="0.7"/>
<text x="412.68" y="353.7" font-size="5.0" font-weight="bold" text-anchor="middle" textLength="11.29" lengthAdjust="spacingAndGlyphs">4.5–5</text>
<line x1="427.34" y1="343.8" x2="427.34" y2="346.3" stroke="#606060" stroke-width="0.7"/>
<text x="426.74" y="353.7" font-size="5.0" font-weight="bold" text-anchor="middle" textLength="11.29" lengthAdjust="spacingAndGlyphs">5–5.5</text>
<line x1="441.4" y1="343.8" x2="441.4" y2="346.3" stroke="#606060" stroke-width="0.7"/>
<text x="440.8" y="353.7" font-size="5.0" font-weight="bold" text-anchor="middle" textLength="11.29" lengthAdjust="spacingAndGlyphs">5.5–6</text>
<line x1="455.46" y1="343.8" x2="455.46" y2="346.3" stroke="#606060" stroke-width="0.7"/>
<text x="454.86" y="353.7" font-size="5.0" font-weight="bold" text-anchor="middle" textLength="11.29" lengthAdjust="spacingAndGlyphs">6–6.5</text>
<line x1="469.52" y1="343.8" x2="469.52" y2="346.3" stroke="#606060" stroke-width="0.7"/>
<text x="468.92" y="353.7" font-size="5.0" font-weight="bold" text-anchor="middle" textLength="11.29" lengthAdjust="spacingAndGlyphs">6.5–7</text>
<line x1="483.58" y1="343.8" x2="483.58" y2="346.3" stroke="#606060" stroke-width="0.7"/>
<text x="482.98" y="353.7" font-size="5.0" font-weight="bold" text-anchor="middle" textLength="11.29" lengthAdjust="spacingAndGlyphs">7–7.5</text>
<line x1="497.64" y1="343.8" x2="497.64" y2="346.3" stroke="#606060" stroke-width="0.7"/>
<text x="497.04" y="353.7" font-size="5.0" font-weight="bold" text-anchor="middle" textLength="11.29" lengthAdjust="spacingAndGlyphs">7.5–8</text>
<line x1="511.7" y1="343.8" x2="511.7" y2="346.3" stroke="#606060" stroke-width="0.7"/>
<text x="511.1" y="353.7" font-size="5.0" font-weight="bold" text-anchor="middle" textLength="5.14" lengthAdjust="spacingAndGlyphs">&gt;8</text>
<text x="401.2" y="365.4" font-size="6.4" font-weight="bold" text-anchor="middle" textLength="22.6" lengthAdjust="spacingAndGlyphs">MD (cm)</text>
<text transform="translate(275.3,259.4) rotate(-90)" x="0" y="0" font-size="7.1" font-weight="bold" text-anchor="middle" textLength="50.2" lengthAdjust="spacingAndGlyphs">Distances (cm)</text>
</svg></body></html>
